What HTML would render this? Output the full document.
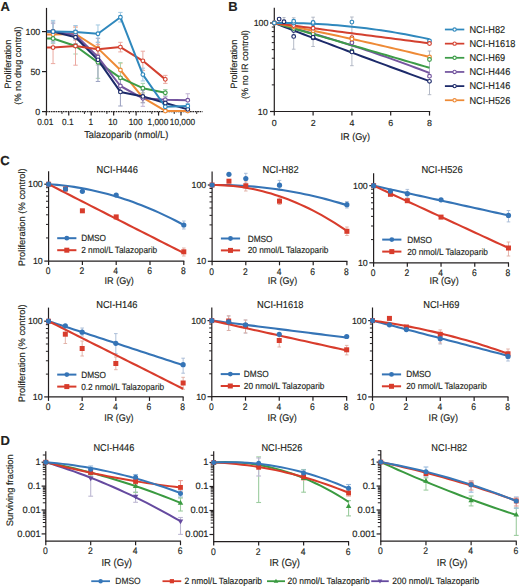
<!DOCTYPE html>
<html><head><meta charset="utf-8"><style>
html,body{margin:0;padding:0;background:#fff;}
svg{display:block;}
text{font-family:"Liberation Sans", sans-serif;text-rendering:geometricPrecision;stroke:#231f20;stroke-width:0.15px;}
</style></head><body>
<svg width="520" height="587" viewBox="0 0 520 587">
<rect width="520" height="587" fill="#fff"/>
<text transform="translate(0.6 11.3) scale(1.0000 1)" font-size="13.00" text-anchor="start" fill="#231f20" font-weight="bold" >A</text>
<text transform="translate(228.3 11.4) scale(1.0000 1)" font-size="13.00" text-anchor="start" fill="#231f20" font-weight="bold" >B</text>
<text transform="translate(0.2 165.2) scale(1.0000 1)" font-size="13.00" text-anchor="start" fill="#231f20" font-weight="bold" >C</text>
<text transform="translate(0.4 445.2) scale(1.0000 1)" font-size="13.00" text-anchor="start" fill="#231f20" font-weight="bold" >D</text>
<line x1="46.5" y1="7.9" x2="46.5" y2="112.2" stroke="#231f20" stroke-width="1.2" />
<line x1="46" y1="111.6" x2="202.5" y2="111.6" stroke="#231f20" stroke-width="1.3" stroke-dasharray="1.7 0.7"/>
<line x1="42" y1="31.6" x2="46.5" y2="31.6" stroke="#231f20" stroke-width="1.2" />
<text transform="translate(40.3 34.6) scale(1.0000 1)" font-size="8.90" text-anchor="end" fill="#231f20" font-weight="normal" >100</text>
<line x1="42" y1="71.6" x2="46.5" y2="71.6" stroke="#231f20" stroke-width="1.2" />
<text transform="translate(40.3 74.6) scale(1.0000 1)" font-size="8.90" text-anchor="end" fill="#231f20" font-weight="normal" >50</text>
<line x1="42" y1="111.6" x2="46.5" y2="111.6" stroke="#231f20" stroke-width="1.2" />
<text transform="translate(40.3 114.6) scale(1.0000 1)" font-size="8.90" text-anchor="end" fill="#231f20" font-weight="normal" >0</text>
<line x1="46.3" y1="111.6" x2="46.3" y2="115.6" stroke="#231f20" stroke-width="1.2" />
<line x1="68.75" y1="111.6" x2="68.75" y2="115.6" stroke="#231f20" stroke-width="1.2" />
<line x1="91.2" y1="111.6" x2="91.2" y2="115.6" stroke="#231f20" stroke-width="1.2" />
<line x1="113.65" y1="111.6" x2="113.65" y2="115.6" stroke="#231f20" stroke-width="1.2" />
<line x1="136.1" y1="111.6" x2="136.1" y2="115.6" stroke="#231f20" stroke-width="1.2" />
<line x1="158.55" y1="111.6" x2="158.55" y2="115.6" stroke="#231f20" stroke-width="1.2" />
<line x1="181" y1="111.6" x2="181" y2="115.6" stroke="#231f20" stroke-width="1.2" />
<text transform="translate(45.2 124.8) scale(0.9259 1)" font-size="8.96" text-anchor="middle" fill="#231f20" font-weight="normal" >0.01</text>
<text transform="translate(67.8 124.8) scale(0.9259 1)" font-size="8.96" text-anchor="middle" fill="#231f20" font-weight="normal" >0.1</text>
<text transform="translate(90.8 124.8) scale(0.9259 1)" font-size="8.96" text-anchor="middle" fill="#231f20" font-weight="normal" >1</text>
<text transform="translate(112.8 124.8) scale(0.9259 1)" font-size="8.96" text-anchor="middle" fill="#231f20" font-weight="normal" >10</text>
<text transform="translate(135.6 124.8) scale(0.9259 1)" font-size="8.96" text-anchor="middle" fill="#231f20" font-weight="normal" >100</text>
<text transform="translate(157.9 124.8) scale(0.9259 1)" font-size="8.96" text-anchor="middle" fill="#231f20" font-weight="normal" >1,000</text>
<text transform="translate(182.5 124.8) scale(0.9259 1)" font-size="8.96" text-anchor="middle" fill="#231f20" font-weight="normal" >10,000</text>
<line x1="61.99" y1="111.6" x2="61.99" y2="114" stroke="#231f20" stroke-width="0.9" />
<line x1="84.44" y1="111.6" x2="84.44" y2="114" stroke="#231f20" stroke-width="0.9" />
<line x1="106.89" y1="111.6" x2="106.89" y2="114" stroke="#231f20" stroke-width="0.9" />
<line x1="129.34" y1="111.6" x2="129.34" y2="114" stroke="#231f20" stroke-width="0.9" />
<line x1="151.79" y1="111.6" x2="151.79" y2="114" stroke="#231f20" stroke-width="0.9" />
<line x1="174.24" y1="111.6" x2="174.24" y2="114" stroke="#231f20" stroke-width="0.9" />
<line x1="196.69" y1="111.6" x2="196.69" y2="114" stroke="#231f20" stroke-width="0.9" />
<text transform="translate(126.2 137.6) scale(0.9259 1)" font-size="10.04" text-anchor="middle" fill="#231f20" font-weight="normal" >Talazoparib (nmol/L)</text>
<text transform="translate(10.8 64.2) rotate(-90) scale(1.0000 1)" font-size="9.20" text-anchor="middle" fill="#231f20" font-weight="normal" >Proliferation</text>
<text transform="translate(20.9 65.6) rotate(-90) scale(1.0000 1)" font-size="9.20" text-anchor="middle" fill="#231f20" font-weight="normal" >(% no drug control)</text>
<line x1="53.06" y1="29.6" x2="53.06" y2="39.2" stroke="#f7caa4" stroke-width="1.0" />
<line x1="50.86" y1="29.6" x2="55.26" y2="29.6" stroke="#f7caa4" stroke-width="1.0" />
<line x1="50.86" y1="39.2" x2="55.26" y2="39.2" stroke="#f7caa4" stroke-width="1.0" />
<line x1="75.51" y1="27.6" x2="75.51" y2="40.4" stroke="#f7caa4" stroke-width="1.0" />
<line x1="73.31" y1="27.6" x2="77.71" y2="27.6" stroke="#f7caa4" stroke-width="1.0" />
<line x1="73.31" y1="40.4" x2="77.71" y2="40.4" stroke="#f7caa4" stroke-width="1.0" />
<line x1="97.96" y1="42" x2="97.96" y2="54.8" stroke="#f7caa4" stroke-width="1.0" />
<line x1="95.76" y1="42" x2="100.16" y2="42" stroke="#f7caa4" stroke-width="1.0" />
<line x1="95.76" y1="54.8" x2="100.16" y2="54.8" stroke="#f7caa4" stroke-width="1.0" />
<line x1="120.41" y1="63.6" x2="120.41" y2="76.4" stroke="#f7caa4" stroke-width="1.0" />
<line x1="118.21" y1="63.6" x2="122.61" y2="63.6" stroke="#f7caa4" stroke-width="1.0" />
<line x1="118.21" y1="76.4" x2="122.61" y2="76.4" stroke="#f7caa4" stroke-width="1.0" />
<line x1="142.86" y1="92.8" x2="142.86" y2="102.4" stroke="#f7caa4" stroke-width="1.0" />
<line x1="140.66" y1="92.8" x2="145.06" y2="92.8" stroke="#f7caa4" stroke-width="1.0" />
<line x1="140.66" y1="102.4" x2="145.06" y2="102.4" stroke="#f7caa4" stroke-width="1.0" />
<line x1="165.31" y1="109.36" x2="165.31" y2="111.6" stroke="#f7caa4" stroke-width="1.0" />
<line x1="163.11" y1="109.36" x2="167.51" y2="109.36" stroke="#f7caa4" stroke-width="1.0" />
<line x1="163.11" y1="111.6" x2="167.51" y2="111.6" stroke="#f7caa4" stroke-width="1.0" />
<line x1="187.76" y1="109.36" x2="187.76" y2="111.6" stroke="#f7caa4" stroke-width="1.0" />
<line x1="185.56" y1="109.36" x2="189.96" y2="109.36" stroke="#f7caa4" stroke-width="1.0" />
<line x1="185.56" y1="111.6" x2="189.96" y2="111.6" stroke="#f7caa4" stroke-width="1.0" />
<line x1="53.06" y1="33.68" x2="53.06" y2="43.28" stroke="#a7d2ac" stroke-width="1.0" />
<line x1="50.86" y1="33.68" x2="55.26" y2="33.68" stroke="#a7d2ac" stroke-width="1.0" />
<line x1="50.86" y1="43.28" x2="55.26" y2="43.28" stroke="#a7d2ac" stroke-width="1.0" />
<line x1="75.51" y1="38" x2="75.51" y2="54" stroke="#a7d2ac" stroke-width="1.0" />
<line x1="73.31" y1="38" x2="77.71" y2="38" stroke="#a7d2ac" stroke-width="1.0" />
<line x1="73.31" y1="54" x2="77.71" y2="54" stroke="#a7d2ac" stroke-width="1.0" />
<line x1="97.96" y1="46.32" x2="97.96" y2="78.32" stroke="#a7d2ac" stroke-width="1.0" />
<line x1="95.76" y1="46.32" x2="100.16" y2="46.32" stroke="#a7d2ac" stroke-width="1.0" />
<line x1="95.76" y1="78.32" x2="100.16" y2="78.32" stroke="#a7d2ac" stroke-width="1.0" />
<line x1="120.41" y1="62.64" x2="120.41" y2="93.04" stroke="#a7d2ac" stroke-width="1.0" />
<line x1="118.21" y1="62.64" x2="122.61" y2="62.64" stroke="#a7d2ac" stroke-width="1.0" />
<line x1="118.21" y1="93.04" x2="122.61" y2="93.04" stroke="#a7d2ac" stroke-width="1.0" />
<line x1="142.86" y1="83.36" x2="142.86" y2="92.96" stroke="#a7d2ac" stroke-width="1.0" />
<line x1="140.66" y1="83.36" x2="145.06" y2="83.36" stroke="#a7d2ac" stroke-width="1.0" />
<line x1="140.66" y1="92.96" x2="145.06" y2="92.96" stroke="#a7d2ac" stroke-width="1.0" />
<line x1="165.31" y1="89.52" x2="165.31" y2="95.92" stroke="#a7d2ac" stroke-width="1.0" />
<line x1="163.11" y1="89.52" x2="167.51" y2="89.52" stroke="#a7d2ac" stroke-width="1.0" />
<line x1="163.11" y1="95.92" x2="167.51" y2="95.92" stroke="#a7d2ac" stroke-width="1.0" />
<line x1="53.06" y1="23.6" x2="53.06" y2="39.6" stroke="#c0b2d3" stroke-width="1.0" />
<line x1="50.86" y1="23.6" x2="55.26" y2="23.6" stroke="#c0b2d3" stroke-width="1.0" />
<line x1="50.86" y1="39.6" x2="55.26" y2="39.6" stroke="#c0b2d3" stroke-width="1.0" />
<line x1="75.51" y1="30.24" x2="75.51" y2="39.84" stroke="#c0b2d3" stroke-width="1.0" />
<line x1="73.31" y1="30.24" x2="77.71" y2="30.24" stroke="#c0b2d3" stroke-width="1.0" />
<line x1="73.31" y1="39.84" x2="77.71" y2="39.84" stroke="#c0b2d3" stroke-width="1.0" />
<line x1="97.96" y1="49.04" x2="97.96" y2="65.04" stroke="#c0b2d3" stroke-width="1.0" />
<line x1="95.76" y1="49.04" x2="100.16" y2="49.04" stroke="#c0b2d3" stroke-width="1.0" />
<line x1="95.76" y1="65.04" x2="100.16" y2="65.04" stroke="#c0b2d3" stroke-width="1.0" />
<line x1="120.41" y1="79.6" x2="120.41" y2="92.4" stroke="#c0b2d3" stroke-width="1.0" />
<line x1="118.21" y1="79.6" x2="122.61" y2="79.6" stroke="#c0b2d3" stroke-width="1.0" />
<line x1="118.21" y1="92.4" x2="122.61" y2="92.4" stroke="#c0b2d3" stroke-width="1.0" />
<line x1="142.86" y1="90.32" x2="142.86" y2="106.32" stroke="#c0b2d3" stroke-width="1.0" />
<line x1="140.66" y1="90.32" x2="145.06" y2="90.32" stroke="#c0b2d3" stroke-width="1.0" />
<line x1="140.66" y1="106.32" x2="145.06" y2="106.32" stroke="#c0b2d3" stroke-width="1.0" />
<line x1="165.31" y1="96.56" x2="165.31" y2="102.96" stroke="#c0b2d3" stroke-width="1.0" />
<line x1="163.11" y1="96.56" x2="167.51" y2="96.56" stroke="#c0b2d3" stroke-width="1.0" />
<line x1="163.11" y1="102.96" x2="167.51" y2="102.96" stroke="#c0b2d3" stroke-width="1.0" />
<line x1="187.76" y1="93.76" x2="187.76" y2="106.56" stroke="#c0b2d3" stroke-width="1.0" />
<line x1="185.56" y1="93.76" x2="189.96" y2="93.76" stroke="#c0b2d3" stroke-width="1.0" />
<line x1="185.56" y1="106.56" x2="189.96" y2="106.56" stroke="#c0b2d3" stroke-width="1.0" />
<line x1="53.06" y1="22" x2="53.06" y2="41.2" stroke="#9aa0c0" stroke-width="1.0" />
<line x1="50.86" y1="22" x2="55.26" y2="22" stroke="#9aa0c0" stroke-width="1.0" />
<line x1="50.86" y1="41.2" x2="55.26" y2="41.2" stroke="#9aa0c0" stroke-width="1.0" />
<line x1="75.51" y1="30.88" x2="75.51" y2="43.68" stroke="#9aa0c0" stroke-width="1.0" />
<line x1="73.31" y1="30.88" x2="77.71" y2="30.88" stroke="#9aa0c0" stroke-width="1.0" />
<line x1="73.31" y1="43.68" x2="77.71" y2="43.68" stroke="#9aa0c0" stroke-width="1.0" />
<line x1="97.96" y1="38.24" x2="97.96" y2="81.44" stroke="#9aa0c0" stroke-width="1.0" />
<line x1="95.76" y1="38.24" x2="100.16" y2="38.24" stroke="#9aa0c0" stroke-width="1.0" />
<line x1="95.76" y1="81.44" x2="100.16" y2="81.44" stroke="#9aa0c0" stroke-width="1.0" />
<line x1="120.41" y1="77.84" x2="120.41" y2="106" stroke="#9aa0c0" stroke-width="1.0" />
<line x1="118.21" y1="77.84" x2="122.61" y2="77.84" stroke="#9aa0c0" stroke-width="1.0" />
<line x1="118.21" y1="106" x2="122.61" y2="106" stroke="#9aa0c0" stroke-width="1.0" />
<line x1="142.86" y1="90" x2="142.86" y2="102.8" stroke="#9aa0c0" stroke-width="1.0" />
<line x1="140.66" y1="90" x2="145.06" y2="90" stroke="#9aa0c0" stroke-width="1.0" />
<line x1="140.66" y1="102.8" x2="145.06" y2="102.8" stroke="#9aa0c0" stroke-width="1.0" />
<line x1="165.31" y1="99.84" x2="165.31" y2="106.24" stroke="#9aa0c0" stroke-width="1.0" />
<line x1="163.11" y1="99.84" x2="167.51" y2="99.84" stroke="#9aa0c0" stroke-width="1.0" />
<line x1="163.11" y1="106.24" x2="167.51" y2="106.24" stroke="#9aa0c0" stroke-width="1.0" />
<line x1="187.76" y1="107.76" x2="187.76" y2="110.96" stroke="#9aa0c0" stroke-width="1.0" />
<line x1="185.56" y1="107.76" x2="189.96" y2="107.76" stroke="#9aa0c0" stroke-width="1.0" />
<line x1="185.56" y1="110.96" x2="189.96" y2="110.96" stroke="#9aa0c0" stroke-width="1.0" />
<line x1="53.06" y1="31.6" x2="53.06" y2="63.6" stroke="#eba9a1" stroke-width="1.0" />
<line x1="50.86" y1="31.6" x2="55.26" y2="31.6" stroke="#eba9a1" stroke-width="1.0" />
<line x1="50.86" y1="63.6" x2="55.26" y2="63.6" stroke="#eba9a1" stroke-width="1.0" />
<line x1="75.51" y1="26.8" x2="75.51" y2="65.2" stroke="#eba9a1" stroke-width="1.0" />
<line x1="73.31" y1="26.8" x2="77.71" y2="26.8" stroke="#eba9a1" stroke-width="1.0" />
<line x1="73.31" y1="65.2" x2="77.71" y2="65.2" stroke="#eba9a1" stroke-width="1.0" />
<line x1="97.96" y1="44.4" x2="97.96" y2="54" stroke="#eba9a1" stroke-width="1.0" />
<line x1="95.76" y1="44.4" x2="100.16" y2="44.4" stroke="#eba9a1" stroke-width="1.0" />
<line x1="95.76" y1="54" x2="100.16" y2="54" stroke="#eba9a1" stroke-width="1.0" />
<line x1="120.41" y1="42.32" x2="120.41" y2="51.92" stroke="#eba9a1" stroke-width="1.0" />
<line x1="118.21" y1="42.32" x2="122.61" y2="42.32" stroke="#eba9a1" stroke-width="1.0" />
<line x1="118.21" y1="51.92" x2="122.61" y2="51.92" stroke="#eba9a1" stroke-width="1.0" />
<line x1="142.86" y1="51.2" x2="142.86" y2="70.4" stroke="#eba9a1" stroke-width="1.0" />
<line x1="140.66" y1="51.2" x2="145.06" y2="51.2" stroke="#eba9a1" stroke-width="1.0" />
<line x1="140.66" y1="70.4" x2="145.06" y2="70.4" stroke="#eba9a1" stroke-width="1.0" />
<line x1="165.31" y1="75.36" x2="165.31" y2="83.36" stroke="#eba9a1" stroke-width="1.0" />
<line x1="163.11" y1="75.36" x2="167.51" y2="75.36" stroke="#eba9a1" stroke-width="1.0" />
<line x1="163.11" y1="83.36" x2="167.51" y2="83.36" stroke="#eba9a1" stroke-width="1.0" />
<line x1="53.06" y1="20.4" x2="53.06" y2="42.8" stroke="#a1c9e1" stroke-width="1.0" />
<line x1="50.86" y1="20.4" x2="55.26" y2="20.4" stroke="#a1c9e1" stroke-width="1.0" />
<line x1="50.86" y1="42.8" x2="55.26" y2="42.8" stroke="#a1c9e1" stroke-width="1.0" />
<line x1="75.51" y1="25.52" x2="75.51" y2="38.32" stroke="#a1c9e1" stroke-width="1.0" />
<line x1="73.31" y1="25.52" x2="77.71" y2="25.52" stroke="#a1c9e1" stroke-width="1.0" />
<line x1="73.31" y1="38.32" x2="77.71" y2="38.32" stroke="#a1c9e1" stroke-width="1.0" />
<line x1="97.96" y1="24.96" x2="97.96" y2="42.56" stroke="#a1c9e1" stroke-width="1.0" />
<line x1="95.76" y1="24.96" x2="100.16" y2="24.96" stroke="#a1c9e1" stroke-width="1.0" />
<line x1="95.76" y1="42.56" x2="100.16" y2="42.56" stroke="#a1c9e1" stroke-width="1.0" />
<line x1="120.41" y1="12.4" x2="120.41" y2="22" stroke="#a1c9e1" stroke-width="1.0" />
<line x1="118.21" y1="12.4" x2="122.61" y2="12.4" stroke="#a1c9e1" stroke-width="1.0" />
<line x1="118.21" y1="22" x2="122.61" y2="22" stroke="#a1c9e1" stroke-width="1.0" />
<line x1="142.86" y1="68.16" x2="142.86" y2="80.96" stroke="#a1c9e1" stroke-width="1.0" />
<line x1="140.66" y1="68.16" x2="145.06" y2="68.16" stroke="#a1c9e1" stroke-width="1.0" />
<line x1="140.66" y1="80.96" x2="145.06" y2="80.96" stroke="#a1c9e1" stroke-width="1.0" />
<line x1="165.31" y1="104.4" x2="165.31" y2="109.2" stroke="#a1c9e1" stroke-width="1.0" />
<line x1="163.11" y1="104.4" x2="167.51" y2="104.4" stroke="#a1c9e1" stroke-width="1.0" />
<line x1="163.11" y1="109.2" x2="167.51" y2="109.2" stroke="#a1c9e1" stroke-width="1.0" />
<line x1="187.76" y1="103.6" x2="187.76" y2="108.4" stroke="#a1c9e1" stroke-width="1.0" />
<line x1="185.56" y1="103.6" x2="189.96" y2="103.6" stroke="#a1c9e1" stroke-width="1.0" />
<line x1="185.56" y1="108.4" x2="189.96" y2="108.4" stroke="#a1c9e1" stroke-width="1.0" />
<polyline points="47,34.4 53.06,34.4 75.51,34 97.96,48.4 120.41,70 142.86,97.6 165.31,110.96 187.76,110.96" fill="none" stroke="#ee8a36" stroke-width="2.0" stroke-linejoin="round" stroke-linecap="butt" />
<polyline points="47,38.48 53.06,38.48 75.51,46 97.96,62.32 120.41,77.84 142.86,88.16 165.31,92.72" fill="none" stroke="#3d9c48" stroke-width="2.0" stroke-linejoin="round" stroke-linecap="butt" />
<polyline points="47,31.6 53.06,31.6 75.51,35.04 97.96,57.04 120.41,86 142.86,98.32 165.31,99.76 187.76,100.16" fill="none" stroke="#74559f" stroke-width="2.0" stroke-linejoin="round" stroke-linecap="butt" />
<polyline points="47,31.6 53.06,31.6 75.51,37.28 97.96,59.84 120.41,91.92 142.86,96.4 165.31,103.04 187.76,109.36" fill="none" stroke="#1c2a6a" stroke-width="2.0" stroke-linejoin="round" stroke-linecap="butt" />
<polyline points="47,47.6 53.06,47.6 75.51,46 97.96,49.2 120.41,47.12 142.86,60.8 165.31,79.36" fill="none" stroke="#d3402f" stroke-width="2.0" stroke-linejoin="round" stroke-linecap="butt" />
<polyline points="47,31.6 53.06,31.6 75.51,31.92 97.96,33.76 120.41,17.2 142.86,74.56 165.31,106.8 187.76,106" fill="none" stroke="#2f88bd" stroke-width="2.0" stroke-linejoin="round" stroke-linecap="butt" />
<circle cx="53.06" cy="34.4" r="1.85" fill="#fff" stroke="#ee8a36" stroke-width="1.15"/>
<circle cx="75.51" cy="34" r="1.85" fill="#fff" stroke="#ee8a36" stroke-width="1.15"/>
<circle cx="97.96" cy="48.4" r="1.85" fill="#fff" stroke="#ee8a36" stroke-width="1.15"/>
<circle cx="120.41" cy="70" r="1.85" fill="#fff" stroke="#ee8a36" stroke-width="1.15"/>
<circle cx="142.86" cy="97.6" r="1.85" fill="#fff" stroke="#ee8a36" stroke-width="1.15"/>
<circle cx="165.31" cy="110.96" r="1.85" fill="#fff" stroke="#ee8a36" stroke-width="1.15"/>
<circle cx="187.76" cy="110.96" r="1.85" fill="#fff" stroke="#ee8a36" stroke-width="1.15"/>
<circle cx="53.06" cy="38.48" r="1.85" fill="#fff" stroke="#3d9c48" stroke-width="1.15"/>
<circle cx="75.51" cy="46" r="1.85" fill="#fff" stroke="#3d9c48" stroke-width="1.15"/>
<circle cx="97.96" cy="62.32" r="1.85" fill="#fff" stroke="#3d9c48" stroke-width="1.15"/>
<circle cx="120.41" cy="77.84" r="1.85" fill="#fff" stroke="#3d9c48" stroke-width="1.15"/>
<circle cx="142.86" cy="88.16" r="1.85" fill="#fff" stroke="#3d9c48" stroke-width="1.15"/>
<circle cx="165.31" cy="92.72" r="1.85" fill="#fff" stroke="#3d9c48" stroke-width="1.15"/>
<circle cx="53.06" cy="31.6" r="1.85" fill="#fff" stroke="#74559f" stroke-width="1.15"/>
<circle cx="75.51" cy="35.04" r="1.85" fill="#fff" stroke="#74559f" stroke-width="1.15"/>
<circle cx="97.96" cy="57.04" r="1.85" fill="#fff" stroke="#74559f" stroke-width="1.15"/>
<circle cx="120.41" cy="86" r="1.85" fill="#fff" stroke="#74559f" stroke-width="1.15"/>
<circle cx="142.86" cy="98.32" r="1.85" fill="#fff" stroke="#74559f" stroke-width="1.15"/>
<circle cx="165.31" cy="99.76" r="1.85" fill="#fff" stroke="#74559f" stroke-width="1.15"/>
<circle cx="187.76" cy="100.16" r="1.85" fill="#fff" stroke="#74559f" stroke-width="1.15"/>
<circle cx="53.06" cy="31.6" r="1.85" fill="#fff" stroke="#1c2a6a" stroke-width="1.15"/>
<circle cx="75.51" cy="37.28" r="1.85" fill="#fff" stroke="#1c2a6a" stroke-width="1.15"/>
<circle cx="97.96" cy="59.84" r="1.85" fill="#fff" stroke="#1c2a6a" stroke-width="1.15"/>
<circle cx="120.41" cy="91.92" r="1.85" fill="#fff" stroke="#1c2a6a" stroke-width="1.15"/>
<circle cx="142.86" cy="96.4" r="1.85" fill="#fff" stroke="#1c2a6a" stroke-width="1.15"/>
<circle cx="165.31" cy="103.04" r="1.85" fill="#fff" stroke="#1c2a6a" stroke-width="1.15"/>
<circle cx="187.76" cy="109.36" r="1.85" fill="#fff" stroke="#1c2a6a" stroke-width="1.15"/>
<circle cx="53.06" cy="47.6" r="1.85" fill="#fff" stroke="#d3402f" stroke-width="1.15"/>
<circle cx="75.51" cy="46" r="1.85" fill="#fff" stroke="#d3402f" stroke-width="1.15"/>
<circle cx="97.96" cy="49.2" r="1.85" fill="#fff" stroke="#d3402f" stroke-width="1.15"/>
<circle cx="120.41" cy="47.12" r="1.85" fill="#fff" stroke="#d3402f" stroke-width="1.15"/>
<circle cx="142.86" cy="60.8" r="1.85" fill="#fff" stroke="#d3402f" stroke-width="1.15"/>
<circle cx="165.31" cy="79.36" r="1.85" fill="#fff" stroke="#d3402f" stroke-width="1.15"/>
<circle cx="53.06" cy="31.6" r="1.85" fill="#fff" stroke="#2f88bd" stroke-width="1.15"/>
<circle cx="75.51" cy="31.92" r="1.85" fill="#fff" stroke="#2f88bd" stroke-width="1.15"/>
<circle cx="97.96" cy="33.76" r="1.85" fill="#fff" stroke="#2f88bd" stroke-width="1.15"/>
<circle cx="120.41" cy="17.2" r="1.85" fill="#fff" stroke="#2f88bd" stroke-width="1.15"/>
<circle cx="142.86" cy="74.56" r="1.85" fill="#fff" stroke="#2f88bd" stroke-width="1.15"/>
<circle cx="165.31" cy="106.8" r="1.85" fill="#fff" stroke="#2f88bd" stroke-width="1.15"/>
<circle cx="187.76" cy="106" r="1.85" fill="#fff" stroke="#2f88bd" stroke-width="1.15"/>
<line x1="274.3" y1="7.7" x2="274.3" y2="112.1" stroke="#231f20" stroke-width="1.2" />
<line x1="273.8" y1="111.5" x2="430.3" y2="111.5" stroke="#231f20" stroke-width="1.2" />
<line x1="270" y1="23" x2="274.3" y2="23" stroke="#231f20" stroke-width="1.2" />
<text transform="translate(268.5 26.1) scale(1.0000 1)" font-size="8.90" text-anchor="end" fill="#231f20" font-weight="normal" >100</text>
<line x1="270" y1="111.5" x2="274.3" y2="111.5" stroke="#231f20" stroke-width="1.2" />
<text transform="translate(267.7 114.6) scale(1.0000 1)" font-size="8.90" text-anchor="end" fill="#231f20" font-weight="normal" >10</text>
<line x1="271.8" y1="84.86" x2="274.3" y2="84.86" stroke="#231f20" stroke-width="1.0" />
<line x1="271.8" y1="69.27" x2="274.3" y2="69.27" stroke="#231f20" stroke-width="1.0" />
<line x1="271.8" y1="58.22" x2="274.3" y2="58.22" stroke="#231f20" stroke-width="1.0" />
<line x1="271.8" y1="49.64" x2="274.3" y2="49.64" stroke="#231f20" stroke-width="1.0" />
<line x1="271.8" y1="42.63" x2="274.3" y2="42.63" stroke="#231f20" stroke-width="1.0" />
<line x1="271.8" y1="36.71" x2="274.3" y2="36.71" stroke="#231f20" stroke-width="1.0" />
<line x1="271.8" y1="31.58" x2="274.3" y2="31.58" stroke="#231f20" stroke-width="1.0" />
<line x1="271.8" y1="27.05" x2="274.3" y2="27.05" stroke="#231f20" stroke-width="1.0" />
<line x1="274.3" y1="111.5" x2="274.3" y2="115.6" stroke="#231f20" stroke-width="1.2" />
<text transform="translate(274.3 125.6) scale(1.0000 1)" font-size="8.90" text-anchor="middle" fill="#231f20" font-weight="normal" >0</text>
<line x1="313.1" y1="111.5" x2="313.1" y2="115.6" stroke="#231f20" stroke-width="1.2" />
<text transform="translate(313.1 125.6) scale(1.0000 1)" font-size="8.90" text-anchor="middle" fill="#231f20" font-weight="normal" >2</text>
<line x1="351.9" y1="111.5" x2="351.9" y2="115.6" stroke="#231f20" stroke-width="1.2" />
<text transform="translate(351.9 125.6) scale(1.0000 1)" font-size="8.90" text-anchor="middle" fill="#231f20" font-weight="normal" >4</text>
<line x1="390.7" y1="111.5" x2="390.7" y2="115.6" stroke="#231f20" stroke-width="1.2" />
<text transform="translate(390.7 125.6) scale(1.0000 1)" font-size="8.90" text-anchor="middle" fill="#231f20" font-weight="normal" >6</text>
<line x1="429.5" y1="111.5" x2="429.5" y2="115.6" stroke="#231f20" stroke-width="1.2" />
<text transform="translate(429.5 125.6) scale(1.0000 1)" font-size="8.90" text-anchor="middle" fill="#231f20" font-weight="normal" >8</text>
<text transform="translate(355.2 140.2) scale(0.9259 1)" font-size="9.94" text-anchor="middle" fill="#231f20" font-weight="normal" >IR (Gy)</text>
<text transform="translate(237.4 64.2) rotate(-90) scale(1.0000 1)" font-size="9.20" text-anchor="middle" fill="#231f20" font-weight="normal" >Proliferation</text>
<text transform="translate(247.7 64.6) rotate(-90) scale(1.0000 1)" font-size="9.20" text-anchor="middle" fill="#231f20" font-weight="normal" >(% no IR control)</text>
<line x1="293.7" y1="17.8" x2="293.7" y2="49.2" stroke="#abb2c1" stroke-width="0.9" />
<line x1="291.9" y1="17.8" x2="295.5" y2="17.8" stroke="#abb2c1" stroke-width="0.9" />
<line x1="291.9" y1="49.2" x2="295.5" y2="49.2" stroke="#abb2c1" stroke-width="0.9" />
<line x1="313.1" y1="17.2" x2="313.1" y2="46.5" stroke="#abb2c1" stroke-width="0.9" />
<line x1="311.3" y1="17.2" x2="314.9" y2="17.2" stroke="#abb2c1" stroke-width="0.9" />
<line x1="311.3" y1="46.5" x2="314.9" y2="46.5" stroke="#abb2c1" stroke-width="0.9" />
<line x1="351.9" y1="17" x2="351.9" y2="65.7" stroke="#abb2c1" stroke-width="0.9" />
<line x1="350.1" y1="17" x2="353.7" y2="17" stroke="#abb2c1" stroke-width="0.9" />
<line x1="350.1" y1="65.7" x2="353.7" y2="65.7" stroke="#abb2c1" stroke-width="0.9" />
<line x1="429.5" y1="51" x2="429.5" y2="94.7" stroke="#abb2c1" stroke-width="0.9" />
<line x1="427.7" y1="51" x2="431.3" y2="51" stroke="#abb2c1" stroke-width="0.9" />
<line x1="427.7" y1="94.7" x2="431.3" y2="94.7" stroke="#abb2c1" stroke-width="0.9" />
<line x1="279.15" y1="17.5" x2="279.15" y2="21" stroke="#abb2c1" stroke-width="0.9" />
<line x1="277.65" y1="17.5" x2="280.65" y2="17.5" stroke="#abb2c1" stroke-width="0.9" />
<line x1="277.65" y1="21" x2="280.65" y2="21" stroke="#abb2c1" stroke-width="0.9" />
<line x1="284" y1="17.5" x2="284" y2="24" stroke="#abb2c1" stroke-width="0.9" />
<line x1="282.5" y1="17.5" x2="285.5" y2="17.5" stroke="#abb2c1" stroke-width="0.9" />
<line x1="282.5" y1="24" x2="285.5" y2="24" stroke="#abb2c1" stroke-width="0.9" />
<polyline points="274.3,23 279.15,24.88 284,26.75 288.85,28.62 293.7,30.49 298.55,32.35 303.4,34.2 308.25,36.06 313.1,37.91 317.95,39.75 322.8,41.6 327.65,43.43 332.5,45.27 337.35,47.1 342.2,48.92 347.05,50.75 351.9,52.57 356.75,54.38 361.6,56.19 366.45,58 371.3,59.8 376.15,61.6 381,63.39 385.85,65.18 390.7,66.97 395.55,68.75 400.4,70.53 405.25,72.31 410.1,74.08 414.95,75.85 419.8,77.61 424.65,79.37 429.5,81.13" fill="none" stroke="#1c2a6a" stroke-width="2.0" stroke-linejoin="round" stroke-linecap="butt" />
<polyline points="274.3,23 279.15,24.26 284,25.54 288.85,26.84 293.7,28.16 298.55,29.49 303.4,30.85 308.25,32.23 313.1,33.62 317.95,35.04 322.8,36.48 327.65,37.93 332.5,39.4 337.35,40.9 342.2,42.41 347.05,43.94 351.9,45.5 356.75,47.07 361.6,48.66 366.45,50.27 371.3,51.9 376.15,53.55 381,55.22 385.85,56.91 390.7,58.62 395.55,60.34 400.4,62.09 405.25,63.86 410.1,65.64 414.95,67.45 419.8,69.28 424.65,71.12 429.5,72.98" fill="none" stroke="#74559f" stroke-width="2.0" stroke-linejoin="round" stroke-linecap="butt" />
<polyline points="274.3,23 279.15,24.38 284,25.77 288.85,27.15 293.7,28.53 298.55,29.92 303.4,31.31 308.25,32.7 313.1,34.09 317.95,35.48 322.8,36.87 327.65,38.26 332.5,39.66 337.35,41.05 342.2,42.45 347.05,43.85 351.9,45.25 356.75,46.65 361.6,48.05 366.45,49.45 371.3,50.85 376.15,52.26 381,53.66 385.85,55.07 390.7,56.48 395.55,57.89 400.4,59.3 405.25,60.71 410.1,62.12 414.95,63.53 419.8,64.95 424.65,66.36 429.5,67.78" fill="none" stroke="#3d9c48" stroke-width="2.0" stroke-linejoin="round" stroke-linecap="butt" />
<polyline points="274.3,23 279.15,23.94 284,24.89 288.85,25.84 293.7,26.81 298.55,27.78 303.4,28.76 308.25,29.75 313.1,30.74 317.95,31.74 322.8,32.76 327.65,33.77 332.5,34.8 337.35,35.83 342.2,36.88 347.05,37.92 351.9,38.98 356.75,40.05 361.6,41.12 366.45,42.2 371.3,43.29 376.15,44.39 381,45.49 385.85,46.6 390.7,47.72 395.55,48.85 400.4,49.99 405.25,51.13 410.1,52.28 414.95,53.44 419.8,54.6 424.65,55.78 429.5,56.96" fill="none" stroke="#ee8a36" stroke-width="2.0" stroke-linejoin="round" stroke-linecap="butt" />
<polyline points="274.3,23 279.15,23.65 284,24.31 288.85,24.96 293.7,25.61 298.55,26.26 303.4,26.9 308.25,27.55 313.1,28.2 317.95,28.84 322.8,29.48 327.65,30.13 332.5,30.77 337.35,31.4 342.2,32.04 347.05,32.68 351.9,33.32 356.75,33.95 361.6,34.58 366.45,35.21 371.3,35.85 376.15,36.47 381,37.1 385.85,37.73 390.7,38.36 395.55,38.98 400.4,39.6 405.25,40.22 410.1,40.85 414.95,41.47 419.8,42.08 424.65,42.7 429.5,43.32" fill="none" stroke="#d3402f" stroke-width="2.0" stroke-linejoin="round" stroke-linecap="butt" />
<polyline points="274.3,23 279.15,22.97 284,22.97 288.85,23.01 293.7,23.09 298.55,23.19 303.4,23.34 308.25,23.51 313.1,23.73 317.95,23.97 322.8,24.25 327.65,24.57 332.5,24.92 337.35,25.3 342.2,25.72 347.05,26.18 351.9,26.67 356.75,27.19 361.6,27.75 366.45,28.34 371.3,28.96 376.15,29.63 381,30.32 385.85,31.05 390.7,31.82 395.55,32.62 400.4,33.45 405.25,34.32 410.1,35.22 414.95,36.16 419.8,37.13 424.65,38.14 429.5,39.18" fill="none" stroke="#2f88bd" stroke-width="2.0" stroke-linejoin="round" stroke-linecap="butt" />
<circle cx="293.7" cy="30.49" r="1.85" fill="#fff" stroke="#1c2a6a" stroke-width="1.15"/>
<circle cx="313.1" cy="37.91" r="1.85" fill="#fff" stroke="#1c2a6a" stroke-width="1.15"/>
<circle cx="293.7" cy="28.16" r="1.85" fill="#fff" stroke="#74559f" stroke-width="1.15"/>
<circle cx="313.1" cy="33.62" r="1.85" fill="#fff" stroke="#74559f" stroke-width="1.15"/>
<circle cx="293.7" cy="28.53" r="1.85" fill="#fff" stroke="#3d9c48" stroke-width="1.15"/>
<circle cx="313.1" cy="34.09" r="1.85" fill="#fff" stroke="#3d9c48" stroke-width="1.15"/>
<circle cx="293.7" cy="26.81" r="1.85" fill="#fff" stroke="#ee8a36" stroke-width="1.15"/>
<circle cx="313.1" cy="30.74" r="1.85" fill="#fff" stroke="#ee8a36" stroke-width="1.15"/>
<circle cx="293.7" cy="25.61" r="1.85" fill="#fff" stroke="#d3402f" stroke-width="1.15"/>
<circle cx="313.1" cy="28.2" r="1.85" fill="#fff" stroke="#d3402f" stroke-width="1.15"/>
<circle cx="293.7" cy="23.09" r="1.85" fill="#fff" stroke="#2f88bd" stroke-width="1.15"/>
<circle cx="313.1" cy="23.73" r="1.85" fill="#fff" stroke="#2f88bd" stroke-width="1.15"/>
<circle cx="274.3" cy="23" r="1.85" fill="#fff" stroke="#1c2a6a" stroke-width="1.15"/>
<circle cx="274.3" cy="23" r="1.85" fill="#fff" stroke="#74559f" stroke-width="1.15"/>
<circle cx="274.3" cy="23" r="1.85" fill="#fff" stroke="#3d9c48" stroke-width="1.15"/>
<circle cx="274.3" cy="23" r="1.85" fill="#fff" stroke="#ee8a36" stroke-width="1.15"/>
<circle cx="274.3" cy="23" r="1.85" fill="#fff" stroke="#d3402f" stroke-width="1.15"/>
<circle cx="274.3" cy="23" r="1.85" fill="#fff" stroke="#2f88bd" stroke-width="1.15"/>
<circle cx="279.15" cy="19.1" r="1.85" fill="#fff" stroke="#1c2a6a" stroke-width="1.15"/>
<circle cx="284" cy="21.7" r="1.85" fill="#fff" stroke="#1c2a6a" stroke-width="1.15"/>
<circle cx="293.7" cy="36.4" r="1.85" fill="#fff" stroke="#1c2a6a" stroke-width="1.15"/>
<circle cx="313.1" cy="37.2" r="1.85" fill="#fff" stroke="#1c2a6a" stroke-width="1.15"/>
<circle cx="293.7" cy="21.3" r="1.85" fill="#fff" stroke="#2f88bd" stroke-width="1.15"/>
<circle cx="313.1" cy="22.5" r="1.85" fill="#fff" stroke="#2f88bd" stroke-width="1.15"/>
<circle cx="351.9" cy="22.1" r="1.85" fill="#fff" stroke="#2f88bd" stroke-width="1.15"/>
<circle cx="351.9" cy="37.6" r="1.85" fill="#fff" stroke="#d3402f" stroke-width="1.15"/>
<circle cx="351.9" cy="42.7" r="1.85" fill="#fff" stroke="#74559f" stroke-width="1.15"/>
<circle cx="351.9" cy="50.9" r="1.85" fill="#fff" stroke="#3d9c48" stroke-width="1.15"/>
<circle cx="351.9" cy="38.98" r="1.85" fill="#fff" stroke="#ee8a36" stroke-width="1.15"/>
<circle cx="351.9" cy="51.9" r="1.85" fill="#fff" stroke="#1c2a6a" stroke-width="1.15"/>
<circle cx="429.5" cy="41" r="1.85" fill="#fff" stroke="#2f88bd" stroke-width="1.15"/>
<circle cx="429.5" cy="43.5" r="1.85" fill="#fff" stroke="#d3402f" stroke-width="1.15"/>
<circle cx="429.5" cy="57" r="1.85" fill="#fff" stroke="#ee8a36" stroke-width="1.15"/>
<circle cx="429.5" cy="59.5" r="1.85" fill="#fff" stroke="#3d9c48" stroke-width="1.15"/>
<circle cx="429.5" cy="76.2" r="1.85" fill="#fff" stroke="#74559f" stroke-width="1.15"/>
<circle cx="429.5" cy="81.3" r="1.85" fill="#fff" stroke="#1c2a6a" stroke-width="1.15"/>
<line x1="444.9" y1="29.5" x2="464.3" y2="29.5" stroke="#2f88bd" stroke-width="1.75" />
<circle cx="454.6" cy="29.5" r="1.65" fill="#fff" stroke="#2f88bd" stroke-width="1.05"/>
<text transform="translate(469.4 32.8) scale(0.9259 1)" font-size="9.94" text-anchor="start" fill="#231f20" font-weight="normal" >NCI-H82</text>
<line x1="444.9" y1="43.65" x2="464.3" y2="43.65" stroke="#d3402f" stroke-width="1.75" />
<circle cx="454.6" cy="43.65" r="1.65" fill="#fff" stroke="#d3402f" stroke-width="1.05"/>
<text transform="translate(469.4 46.95) scale(0.9259 1)" font-size="9.94" text-anchor="start" fill="#231f20" font-weight="normal" >NCI-H1618</text>
<line x1="444.9" y1="57.8" x2="464.3" y2="57.8" stroke="#3d9c48" stroke-width="1.75" />
<circle cx="454.6" cy="57.8" r="1.65" fill="#fff" stroke="#3d9c48" stroke-width="1.05"/>
<text transform="translate(469.4 61.1) scale(0.9259 1)" font-size="9.94" text-anchor="start" fill="#231f20" font-weight="normal" >NCI-H69</text>
<line x1="444.9" y1="71.95" x2="464.3" y2="71.95" stroke="#74559f" stroke-width="1.75" />
<circle cx="454.6" cy="71.95" r="1.65" fill="#fff" stroke="#74559f" stroke-width="1.05"/>
<text transform="translate(469.4 75.25) scale(0.9259 1)" font-size="9.94" text-anchor="start" fill="#231f20" font-weight="normal" >NCI-H446</text>
<line x1="444.9" y1="86.1" x2="464.3" y2="86.1" stroke="#1c2a6a" stroke-width="1.75" />
<circle cx="454.6" cy="86.1" r="1.65" fill="#fff" stroke="#1c2a6a" stroke-width="1.05"/>
<text transform="translate(469.4 89.4) scale(0.9259 1)" font-size="9.94" text-anchor="start" fill="#231f20" font-weight="normal" >NCI-H146</text>
<line x1="444.9" y1="100.25" x2="464.3" y2="100.25" stroke="#ee8a36" stroke-width="1.75" />
<circle cx="454.6" cy="100.25" r="1.65" fill="#fff" stroke="#ee8a36" stroke-width="1.05"/>
<text transform="translate(469.4 103.55) scale(0.9259 1)" font-size="9.94" text-anchor="start" fill="#231f20" font-weight="normal" >NCI-H526</text>
<line x1="48.6" y1="171.25" x2="48.6" y2="261.7" stroke="#231f20" stroke-width="1.2" />
<line x1="48.1" y1="261.1" x2="184.3" y2="261.1" stroke="#231f20" stroke-width="1.2" />
<line x1="44.3" y1="184.2" x2="48.6" y2="184.2" stroke="#231f20" stroke-width="1.2" />
<text transform="translate(42.8 187.3) scale(1.0000 1)" font-size="8.90" text-anchor="end" fill="#231f20" font-weight="normal" >100</text>
<line x1="44.3" y1="261.1" x2="48.6" y2="261.1" stroke="#231f20" stroke-width="1.2" />
<text transform="translate(42.8 264.2) scale(1.0000 1)" font-size="8.90" text-anchor="end" fill="#231f20" font-weight="normal" >10</text>
<line x1="46" y1="237.95" x2="48.6" y2="237.95" stroke="#231f20" stroke-width="1.0" />
<line x1="46" y1="224.41" x2="48.6" y2="224.41" stroke="#231f20" stroke-width="1.0" />
<line x1="46" y1="214.8" x2="48.6" y2="214.8" stroke="#231f20" stroke-width="1.0" />
<line x1="46" y1="207.35" x2="48.6" y2="207.35" stroke="#231f20" stroke-width="1.0" />
<line x1="46" y1="201.26" x2="48.6" y2="201.26" stroke="#231f20" stroke-width="1.0" />
<line x1="46" y1="196.11" x2="48.6" y2="196.11" stroke="#231f20" stroke-width="1.0" />
<line x1="46" y1="191.65" x2="48.6" y2="191.65" stroke="#231f20" stroke-width="1.0" />
<line x1="46" y1="187.72" x2="48.6" y2="187.72" stroke="#231f20" stroke-width="1.0" />
<line x1="48.6" y1="261.1" x2="48.6" y2="265.1" stroke="#231f20" stroke-width="1.2" />
<text transform="translate(48.1 274.4) scale(0.8929 1)" font-size="9.52" text-anchor="middle" fill="#231f20" font-weight="normal" >0</text>
<line x1="82.4" y1="261.1" x2="82.4" y2="265.1" stroke="#231f20" stroke-width="1.2" />
<text transform="translate(81.9 274.4) scale(0.8929 1)" font-size="9.52" text-anchor="middle" fill="#231f20" font-weight="normal" >2</text>
<line x1="116.2" y1="261.1" x2="116.2" y2="265.1" stroke="#231f20" stroke-width="1.2" />
<text transform="translate(115.7 274.4) scale(0.8929 1)" font-size="9.52" text-anchor="middle" fill="#231f20" font-weight="normal" >4</text>
<line x1="150" y1="261.1" x2="150" y2="265.1" stroke="#231f20" stroke-width="1.2" />
<text transform="translate(149.5 274.4) scale(0.8929 1)" font-size="9.52" text-anchor="middle" fill="#231f20" font-weight="normal" >6</text>
<line x1="183.8" y1="261.1" x2="183.8" y2="265.1" stroke="#231f20" stroke-width="1.2" />
<text transform="translate(183.3 274.4) scale(0.8929 1)" font-size="9.52" text-anchor="middle" fill="#231f20" font-weight="normal" >8</text>
<text transform="translate(119.2 283.6) scale(0.9259 1)" font-size="9.83" text-anchor="middle" fill="#231f20" font-weight="normal" >IR (Gy)</text>
<text transform="translate(117.2 172.5) scale(0.9259 1)" font-size="10.04" text-anchor="middle" fill="#231f20" font-weight="normal" >NCI-H446</text>
<line x1="183.8" y1="221" x2="183.8" y2="229" stroke="#a5b9d5" stroke-width="0.9" />
<line x1="182" y1="221" x2="185.6" y2="221" stroke="#a5b9d5" stroke-width="0.9" />
<line x1="182" y1="229" x2="185.6" y2="229" stroke="#a5b9d5" stroke-width="0.9" />
<line x1="183.8" y1="248" x2="183.8" y2="256" stroke="#e0ada1" stroke-width="0.9" />
<line x1="182" y1="248" x2="185.6" y2="248" stroke="#e0ada1" stroke-width="0.9" />
<line x1="182" y1="256" x2="185.6" y2="256" stroke="#e0ada1" stroke-width="0.9" />
<polyline points="48.6,184.2 52.83,184.49 57.05,184.85 61.27,185.27 65.5,185.76 69.72,186.3 73.95,186.91 78.17,187.59 82.4,188.32 86.62,189.12 90.85,189.99 95.07,190.91 99.3,191.9 103.53,192.96 107.75,194.07 111.97,195.25 116.2,196.5 120.42,197.8 124.65,199.17 128.88,200.6 133.1,202.1 137.32,203.66 141.55,205.28 145.78,206.97 150,208.72 154.22,210.53 158.45,212.4 162.67,214.34 166.9,216.34 171.12,218.41 175.35,220.54 179.57,222.73 183.8,224.98" fill="none" stroke="#3574b6" stroke-width="2.1" stroke-linejoin="round" stroke-linecap="butt" />
<polyline points="48.6,184.2 52.83,186.37 57.05,188.54 61.27,190.7 65.5,192.87 69.72,195.03 73.95,197.2 78.17,199.36 82.4,201.52 86.62,203.68 90.85,205.84 95.07,207.99 99.3,210.15 103.53,212.3 107.75,214.46 111.97,216.61 116.2,218.76 120.42,220.91 124.65,223.06 128.88,225.2 133.1,227.35 137.32,229.49 141.55,231.64 145.78,233.78 150,235.92 154.22,238.06 158.45,240.2 162.67,242.33 166.9,244.47 171.12,246.6 175.35,248.74 179.57,250.87 183.8,253" fill="none" stroke="#d83c2c" stroke-width="2.1" stroke-linejoin="round" stroke-linecap="butt" />
<rect x="46.1" y="181.7" width="5.0" height="5.0" fill="#d83c2c"/>
<rect x="63" y="186.5" width="5.0" height="5.0" fill="#d83c2c"/>
<rect x="79.9" y="208.3" width="5.0" height="5.0" fill="#d83c2c"/>
<rect x="113.7" y="214.4" width="5.0" height="5.0" fill="#d83c2c"/>
<rect x="181.3" y="249.3" width="5.0" height="5.0" fill="#d83c2c"/>
<circle cx="48.6" cy="184.2" r="2.6" fill="#3574b6"/>
<circle cx="65.5" cy="189" r="2.6" fill="#3574b6"/>
<circle cx="82.4" cy="191.3" r="2.6" fill="#3574b6"/>
<circle cx="116.2" cy="195" r="2.6" fill="#3574b6"/>
<circle cx="183.8" cy="225" r="2.6" fill="#3574b6"/>
<line x1="57.2" y1="238.2" x2="76.4" y2="238.2" stroke="#3574b6" stroke-width="2.0" />
<circle cx="66.8" cy="238.2" r="2.4" fill="#3574b6"/>
<text transform="translate(81.2 241.2) scale(0.9259 1)" font-size="8.96" text-anchor="start" fill="#231f20" font-weight="normal" >DMSO</text>
<line x1="57.2" y1="250.2" x2="76.4" y2="250.2" stroke="#d83c2c" stroke-width="2.0" />
<rect x="64.3" y="247.7" width="5.0" height="5.0" fill="#d83c2c"/>
<text transform="translate(81.2 253.2) scale(0.9259 1)" font-size="8.96" text-anchor="start" fill="#231f20" font-weight="normal" >2 nmol/L Talazoparib</text>
<line x1="212.1" y1="171.5" x2="212.1" y2="261.9" stroke="#231f20" stroke-width="1.2" />
<line x1="211.6" y1="261.3" x2="347.4" y2="261.3" stroke="#231f20" stroke-width="1.2" />
<line x1="207.8" y1="185" x2="212.1" y2="185" stroke="#231f20" stroke-width="1.2" />
<text transform="translate(206.3 188.1) scale(1.0000 1)" font-size="8.90" text-anchor="end" fill="#231f20" font-weight="normal" >100</text>
<line x1="207.8" y1="261.3" x2="212.1" y2="261.3" stroke="#231f20" stroke-width="1.2" />
<text transform="translate(206.3 264.4) scale(1.0000 1)" font-size="8.90" text-anchor="end" fill="#231f20" font-weight="normal" >10</text>
<line x1="209.5" y1="238.33" x2="212.1" y2="238.33" stroke="#231f20" stroke-width="1.0" />
<line x1="209.5" y1="224.9" x2="212.1" y2="224.9" stroke="#231f20" stroke-width="1.0" />
<line x1="209.5" y1="215.36" x2="212.1" y2="215.36" stroke="#231f20" stroke-width="1.0" />
<line x1="209.5" y1="207.97" x2="212.1" y2="207.97" stroke="#231f20" stroke-width="1.0" />
<line x1="209.5" y1="201.93" x2="212.1" y2="201.93" stroke="#231f20" stroke-width="1.0" />
<line x1="209.5" y1="196.82" x2="212.1" y2="196.82" stroke="#231f20" stroke-width="1.0" />
<line x1="209.5" y1="192.39" x2="212.1" y2="192.39" stroke="#231f20" stroke-width="1.0" />
<line x1="209.5" y1="188.49" x2="212.1" y2="188.49" stroke="#231f20" stroke-width="1.0" />
<line x1="212.1" y1="261.3" x2="212.1" y2="265.3" stroke="#231f20" stroke-width="1.2" />
<text transform="translate(211.6 274.6) scale(0.8929 1)" font-size="9.52" text-anchor="middle" fill="#231f20" font-weight="normal" >0</text>
<line x1="245.8" y1="261.3" x2="245.8" y2="265.3" stroke="#231f20" stroke-width="1.2" />
<text transform="translate(245.3 274.6) scale(0.8929 1)" font-size="9.52" text-anchor="middle" fill="#231f20" font-weight="normal" >2</text>
<line x1="279.5" y1="261.3" x2="279.5" y2="265.3" stroke="#231f20" stroke-width="1.2" />
<text transform="translate(279 274.6) scale(0.8929 1)" font-size="9.52" text-anchor="middle" fill="#231f20" font-weight="normal" >4</text>
<line x1="313.2" y1="261.3" x2="313.2" y2="265.3" stroke="#231f20" stroke-width="1.2" />
<text transform="translate(312.7 274.6) scale(0.8929 1)" font-size="9.52" text-anchor="middle" fill="#231f20" font-weight="normal" >6</text>
<line x1="346.9" y1="261.3" x2="346.9" y2="265.3" stroke="#231f20" stroke-width="1.2" />
<text transform="translate(346.4 274.6) scale(0.8929 1)" font-size="9.52" text-anchor="middle" fill="#231f20" font-weight="normal" >8</text>
<text transform="translate(282.5 283.6) scale(0.9259 1)" font-size="9.83" text-anchor="middle" fill="#231f20" font-weight="normal" >IR (Gy)</text>
<text transform="translate(280.5 172.5) scale(0.9259 1)" font-size="10.04" text-anchor="middle" fill="#231f20" font-weight="normal" >NCI-H82</text>
<line x1="245.8" y1="173.3" x2="245.8" y2="183" stroke="#a5b9d5" stroke-width="0.9" />
<line x1="244" y1="173.3" x2="247.6" y2="173.3" stroke="#a5b9d5" stroke-width="0.9" />
<line x1="244" y1="183" x2="247.6" y2="183" stroke="#a5b9d5" stroke-width="0.9" />
<line x1="279.5" y1="180.4" x2="279.5" y2="190" stroke="#a5b9d5" stroke-width="0.9" />
<line x1="277.7" y1="180.4" x2="281.3" y2="180.4" stroke="#a5b9d5" stroke-width="0.9" />
<line x1="277.7" y1="190" x2="281.3" y2="190" stroke="#a5b9d5" stroke-width="0.9" />
<line x1="346.9" y1="201.5" x2="346.9" y2="208" stroke="#a5b9d5" stroke-width="0.9" />
<line x1="345.1" y1="201.5" x2="348.7" y2="201.5" stroke="#a5b9d5" stroke-width="0.9" />
<line x1="345.1" y1="208" x2="348.7" y2="208" stroke="#a5b9d5" stroke-width="0.9" />
<line x1="245.8" y1="181" x2="245.8" y2="191" stroke="#e0ada1" stroke-width="0.9" />
<line x1="244" y1="181" x2="247.6" y2="181" stroke="#e0ada1" stroke-width="0.9" />
<line x1="244" y1="191" x2="247.6" y2="191" stroke="#e0ada1" stroke-width="0.9" />
<line x1="279.5" y1="198" x2="279.5" y2="204.5" stroke="#e0ada1" stroke-width="0.9" />
<line x1="277.7" y1="198" x2="281.3" y2="198" stroke="#e0ada1" stroke-width="0.9" />
<line x1="277.7" y1="204.5" x2="281.3" y2="204.5" stroke="#e0ada1" stroke-width="0.9" />
<line x1="346.9" y1="227" x2="346.9" y2="235.5" stroke="#e0ada1" stroke-width="0.9" />
<line x1="345.1" y1="227" x2="348.7" y2="227" stroke="#e0ada1" stroke-width="0.9" />
<line x1="345.1" y1="235.5" x2="348.7" y2="235.5" stroke="#e0ada1" stroke-width="0.9" />
<polyline points="212.1,185 216.31,184.97 220.53,184.99 224.74,185.04 228.95,185.14 233.16,185.28 237.38,185.46 241.59,185.69 245.8,185.96 250.01,186.27 254.22,186.62 258.44,187.02 262.65,187.46 266.86,187.94 271.07,188.47 275.29,189.03 279.5,189.64 283.71,190.29 287.93,190.98 292.14,191.72 296.35,192.5 300.56,193.32 304.77,194.19 308.99,195.09 313.2,196.04 317.41,197.03 321.62,198.06 325.84,199.14 330.05,200.26 334.26,201.42 338.48,202.62 342.69,203.87 346.9,205.16" fill="none" stroke="#3574b6" stroke-width="2.1" stroke-linejoin="round" stroke-linecap="butt" />
<polyline points="212.1,185 216.31,185.02 220.53,185.13 224.74,185.34 228.95,185.63 233.16,186.02 237.38,186.49 241.59,187.06 245.8,187.72 250.01,188.47 254.22,189.31 258.44,190.25 262.65,191.27 266.86,192.39 271.07,193.59 275.29,194.89 279.5,196.28 283.71,197.76 287.93,199.33 292.14,201 296.35,202.75 300.56,204.6 304.77,206.53 308.99,208.56 313.2,210.68 317.41,212.89 321.62,215.19 325.84,217.59 330.05,220.07 334.26,222.65 338.48,225.31 342.69,228.07 346.9,230.92" fill="none" stroke="#d83c2c" stroke-width="2.1" stroke-linejoin="round" stroke-linecap="butt" />
<rect x="209.6" y="182.5" width="5.0" height="5.0" fill="#d83c2c"/>
<rect x="226.45" y="178.7" width="5.0" height="5.0" fill="#d83c2c"/>
<rect x="243.3" y="183.3" width="5.0" height="5.0" fill="#d83c2c"/>
<rect x="277" y="198.7" width="5.0" height="5.0" fill="#d83c2c"/>
<rect x="344.4" y="228.8" width="5.0" height="5.0" fill="#d83c2c"/>
<circle cx="212.1" cy="185" r="2.6" fill="#3574b6"/>
<circle cx="228.95" cy="174.3" r="2.6" fill="#3574b6"/>
<circle cx="245.8" cy="178.5" r="2.6" fill="#3574b6"/>
<circle cx="279.5" cy="185.2" r="2.6" fill="#3574b6"/>
<circle cx="346.9" cy="204.7" r="2.6" fill="#3574b6"/>
<line x1="220.9" y1="238.5" x2="240.1" y2="238.5" stroke="#3574b6" stroke-width="2.0" />
<circle cx="230.5" cy="238.5" r="2.4" fill="#3574b6"/>
<text transform="translate(247.7 241.5) scale(0.9259 1)" font-size="8.96" text-anchor="start" fill="#231f20" font-weight="normal" >DMSO</text>
<line x1="220.9" y1="250.4" x2="240.1" y2="250.4" stroke="#d83c2c" stroke-width="2.0" />
<rect x="228" y="247.9" width="5.0" height="5.0" fill="#d83c2c"/>
<text transform="translate(247.7 253.4) scale(0.9259 1)" font-size="8.96" text-anchor="start" fill="#231f20" font-weight="normal" >20 nmol/L Talazoparib</text>
<line x1="373.6" y1="173.2" x2="373.6" y2="263.4" stroke="#231f20" stroke-width="1.2" />
<line x1="373.1" y1="262.8" x2="508.98" y2="262.8" stroke="#231f20" stroke-width="1.2" />
<line x1="369.3" y1="185.7" x2="373.6" y2="185.7" stroke="#231f20" stroke-width="1.2" />
<text transform="translate(367.8 188.8) scale(1.0000 1)" font-size="8.90" text-anchor="end" fill="#231f20" font-weight="normal" >100</text>
<line x1="369.3" y1="262.8" x2="373.6" y2="262.8" stroke="#231f20" stroke-width="1.2" />
<text transform="translate(367.8 265.9) scale(1.0000 1)" font-size="8.90" text-anchor="end" fill="#231f20" font-weight="normal" >10</text>
<line x1="371" y1="239.59" x2="373.6" y2="239.59" stroke="#231f20" stroke-width="1.0" />
<line x1="371" y1="226.01" x2="373.6" y2="226.01" stroke="#231f20" stroke-width="1.0" />
<line x1="371" y1="216.38" x2="373.6" y2="216.38" stroke="#231f20" stroke-width="1.0" />
<line x1="371" y1="208.91" x2="373.6" y2="208.91" stroke="#231f20" stroke-width="1.0" />
<line x1="371" y1="202.8" x2="373.6" y2="202.8" stroke="#231f20" stroke-width="1.0" />
<line x1="371" y1="197.64" x2="373.6" y2="197.64" stroke="#231f20" stroke-width="1.0" />
<line x1="371" y1="193.17" x2="373.6" y2="193.17" stroke="#231f20" stroke-width="1.0" />
<line x1="371" y1="189.23" x2="373.6" y2="189.23" stroke="#231f20" stroke-width="1.0" />
<line x1="373.6" y1="262.8" x2="373.6" y2="266.8" stroke="#231f20" stroke-width="1.2" />
<text transform="translate(373.1 276.1) scale(0.8929 1)" font-size="9.52" text-anchor="middle" fill="#231f20" font-weight="normal" >0</text>
<line x1="407.32" y1="262.8" x2="407.32" y2="266.8" stroke="#231f20" stroke-width="1.2" />
<text transform="translate(406.82 276.1) scale(0.8929 1)" font-size="9.52" text-anchor="middle" fill="#231f20" font-weight="normal" >2</text>
<line x1="441.04" y1="262.8" x2="441.04" y2="266.8" stroke="#231f20" stroke-width="1.2" />
<text transform="translate(440.54 276.1) scale(0.8929 1)" font-size="9.52" text-anchor="middle" fill="#231f20" font-weight="normal" >4</text>
<line x1="474.76" y1="262.8" x2="474.76" y2="266.8" stroke="#231f20" stroke-width="1.2" />
<text transform="translate(474.26 276.1) scale(0.8929 1)" font-size="9.52" text-anchor="middle" fill="#231f20" font-weight="normal" >6</text>
<line x1="508.48" y1="262.8" x2="508.48" y2="266.8" stroke="#231f20" stroke-width="1.2" />
<text transform="translate(507.98 276.1) scale(0.8929 1)" font-size="9.52" text-anchor="middle" fill="#231f20" font-weight="normal" >8</text>
<text transform="translate(444.04 283.6) scale(0.9259 1)" font-size="9.83" text-anchor="middle" fill="#231f20" font-weight="normal" >IR (Gy)</text>
<text transform="translate(442.04 172.5) scale(0.9259 1)" font-size="10.04" text-anchor="middle" fill="#231f20" font-weight="normal" >NCI-H526</text>
<line x1="407.32" y1="189.4" x2="407.32" y2="198" stroke="#a5b9d5" stroke-width="0.9" />
<line x1="405.52" y1="189.4" x2="409.12" y2="189.4" stroke="#a5b9d5" stroke-width="0.9" />
<line x1="405.52" y1="198" x2="409.12" y2="198" stroke="#a5b9d5" stroke-width="0.9" />
<line x1="508.48" y1="210.5" x2="508.48" y2="221.9" stroke="#a5b9d5" stroke-width="0.9" />
<line x1="506.68" y1="210.5" x2="510.28" y2="210.5" stroke="#a5b9d5" stroke-width="0.9" />
<line x1="506.68" y1="221.9" x2="510.28" y2="221.9" stroke="#a5b9d5" stroke-width="0.9" />
<line x1="508.48" y1="242" x2="508.48" y2="256" stroke="#e0ada1" stroke-width="0.9" />
<line x1="506.68" y1="242" x2="510.28" y2="242" stroke="#e0ada1" stroke-width="0.9" />
<line x1="506.68" y1="256" x2="510.28" y2="256" stroke="#e0ada1" stroke-width="0.9" />
<polyline points="373.6,185.7 377.81,186.63 382.03,187.55 386.25,188.48 390.46,189.41 394.68,190.34 398.89,191.26 403.11,192.19 407.32,193.12 411.54,194.05 415.75,194.97 419.97,195.9 424.18,196.83 428.4,197.76 432.61,198.69 436.83,199.61 441.04,200.54 445.25,201.47 449.47,202.39 453.69,203.32 457.9,204.25 462.12,205.18 466.33,206.1 470.55,207.03 474.76,207.96 478.98,208.89 483.19,209.81 487.41,210.74 491.62,211.67 495.84,212.6 500.05,213.52 504.26,214.45 508.48,215.38" fill="none" stroke="#3574b6" stroke-width="2.1" stroke-linejoin="round" stroke-linecap="butt" />
<polyline points="373.6,185.7 377.81,187.65 382.03,189.59 386.25,191.54 390.46,193.49 394.68,195.44 398.89,197.38 403.11,199.33 407.32,201.28 411.54,203.23 415.75,205.17 419.97,207.12 424.18,209.07 428.4,211.02 432.61,212.96 436.83,214.91 441.04,216.86 445.25,218.81 449.47,220.75 453.69,222.7 457.9,224.65 462.12,226.6 466.33,228.54 470.55,230.49 474.76,232.44 478.98,234.39 483.19,236.33 487.41,238.28 491.62,240.23 495.84,242.18 500.05,244.12 504.26,246.07 508.48,248.02" fill="none" stroke="#d83c2c" stroke-width="2.1" stroke-linejoin="round" stroke-linecap="butt" />
<rect x="371.1" y="183.2" width="5.0" height="5.0" fill="#d83c2c"/>
<rect x="387.96" y="191.8" width="5.0" height="5.0" fill="#d83c2c"/>
<rect x="404.82" y="198.2" width="5.0" height="5.0" fill="#d83c2c"/>
<rect x="438.54" y="214.6" width="5.0" height="5.0" fill="#d83c2c"/>
<rect x="505.98" y="245.5" width="5.0" height="5.0" fill="#d83c2c"/>
<circle cx="373.6" cy="185.7" r="2.6" fill="#3574b6"/>
<circle cx="390.46" cy="191.1" r="2.6" fill="#3574b6"/>
<circle cx="407.32" cy="193.7" r="2.6" fill="#3574b6"/>
<circle cx="441.04" cy="199.8" r="2.6" fill="#3574b6"/>
<circle cx="508.48" cy="215.4" r="2.6" fill="#3574b6"/>
<line x1="382.2" y1="239.6" x2="401.4" y2="239.6" stroke="#3574b6" stroke-width="2.0" />
<circle cx="391.8" cy="239.6" r="2.4" fill="#3574b6"/>
<text transform="translate(407.2 242.6) scale(0.9259 1)" font-size="8.96" text-anchor="start" fill="#231f20" font-weight="normal" >DMSO</text>
<line x1="382.2" y1="251.6" x2="401.4" y2="251.6" stroke="#d83c2c" stroke-width="2.0" />
<rect x="389.3" y="249.1" width="5.0" height="5.0" fill="#d83c2c"/>
<text transform="translate(407.2 254.6) scale(0.9259 1)" font-size="8.96" text-anchor="start" fill="#231f20" font-weight="normal" >20 nmol/L Talazoparib</text>
<line x1="48.5" y1="307.6" x2="48.5" y2="397.5" stroke="#231f20" stroke-width="1.2" />
<line x1="48" y1="396.9" x2="183.64" y2="396.9" stroke="#231f20" stroke-width="1.2" />
<line x1="44.2" y1="321.2" x2="48.5" y2="321.2" stroke="#231f20" stroke-width="1.2" />
<text transform="translate(42.7 324.3) scale(1.0000 1)" font-size="8.90" text-anchor="end" fill="#231f20" font-weight="normal" >100</text>
<line x1="44.2" y1="396.9" x2="48.5" y2="396.9" stroke="#231f20" stroke-width="1.2" />
<text transform="translate(42.7 400) scale(1.0000 1)" font-size="8.90" text-anchor="end" fill="#231f20" font-weight="normal" >10</text>
<line x1="45.9" y1="374.11" x2="48.5" y2="374.11" stroke="#231f20" stroke-width="1.0" />
<line x1="45.9" y1="360.78" x2="48.5" y2="360.78" stroke="#231f20" stroke-width="1.0" />
<line x1="45.9" y1="351.32" x2="48.5" y2="351.32" stroke="#231f20" stroke-width="1.0" />
<line x1="45.9" y1="343.99" x2="48.5" y2="343.99" stroke="#231f20" stroke-width="1.0" />
<line x1="45.9" y1="337.99" x2="48.5" y2="337.99" stroke="#231f20" stroke-width="1.0" />
<line x1="45.9" y1="332.93" x2="48.5" y2="332.93" stroke="#231f20" stroke-width="1.0" />
<line x1="45.9" y1="328.54" x2="48.5" y2="328.54" stroke="#231f20" stroke-width="1.0" />
<line x1="45.9" y1="324.66" x2="48.5" y2="324.66" stroke="#231f20" stroke-width="1.0" />
<line x1="48.5" y1="396.9" x2="48.5" y2="400.9" stroke="#231f20" stroke-width="1.2" />
<text transform="translate(48 410.2) scale(0.8929 1)" font-size="9.52" text-anchor="middle" fill="#231f20" font-weight="normal" >0</text>
<line x1="82.16" y1="396.9" x2="82.16" y2="400.9" stroke="#231f20" stroke-width="1.2" />
<text transform="translate(81.66 410.2) scale(0.8929 1)" font-size="9.52" text-anchor="middle" fill="#231f20" font-weight="normal" >2</text>
<line x1="115.82" y1="396.9" x2="115.82" y2="400.9" stroke="#231f20" stroke-width="1.2" />
<text transform="translate(115.32 410.2) scale(0.8929 1)" font-size="9.52" text-anchor="middle" fill="#231f20" font-weight="normal" >4</text>
<line x1="149.48" y1="396.9" x2="149.48" y2="400.9" stroke="#231f20" stroke-width="1.2" />
<text transform="translate(148.98 410.2) scale(0.8929 1)" font-size="9.52" text-anchor="middle" fill="#231f20" font-weight="normal" >6</text>
<line x1="183.14" y1="396.9" x2="183.14" y2="400.9" stroke="#231f20" stroke-width="1.2" />
<text transform="translate(182.64 410.2) scale(0.8929 1)" font-size="9.52" text-anchor="middle" fill="#231f20" font-weight="normal" >8</text>
<text transform="translate(118.82 421.4) scale(0.9259 1)" font-size="9.83" text-anchor="middle" fill="#231f20" font-weight="normal" >IR (Gy)</text>
<text transform="translate(116.82 308.4) scale(0.9259 1)" font-size="10.04" text-anchor="middle" fill="#231f20" font-weight="normal" >NCI-H146</text>
<line x1="82.16" y1="328" x2="82.16" y2="336" stroke="#a5b9d5" stroke-width="0.9" />
<line x1="80.36" y1="328" x2="83.96" y2="328" stroke="#a5b9d5" stroke-width="0.9" />
<line x1="80.36" y1="336" x2="83.96" y2="336" stroke="#a5b9d5" stroke-width="0.9" />
<line x1="115.82" y1="333.6" x2="115.82" y2="353.6" stroke="#a5b9d5" stroke-width="0.9" />
<line x1="114.02" y1="333.6" x2="117.62" y2="333.6" stroke="#a5b9d5" stroke-width="0.9" />
<line x1="114.02" y1="353.6" x2="117.62" y2="353.6" stroke="#a5b9d5" stroke-width="0.9" />
<line x1="183.14" y1="358.2" x2="183.14" y2="373.2" stroke="#a5b9d5" stroke-width="0.9" />
<line x1="181.34" y1="358.2" x2="184.94" y2="358.2" stroke="#a5b9d5" stroke-width="0.9" />
<line x1="181.34" y1="373.2" x2="184.94" y2="373.2" stroke="#a5b9d5" stroke-width="0.9" />
<line x1="65.33" y1="325" x2="65.33" y2="343.5" stroke="#e0ada1" stroke-width="0.9" />
<line x1="63.53" y1="325" x2="67.13" y2="325" stroke="#e0ada1" stroke-width="0.9" />
<line x1="63.53" y1="343.5" x2="67.13" y2="343.5" stroke="#e0ada1" stroke-width="0.9" />
<line x1="82.16" y1="341" x2="82.16" y2="356" stroke="#e0ada1" stroke-width="0.9" />
<line x1="80.36" y1="341" x2="83.96" y2="341" stroke="#e0ada1" stroke-width="0.9" />
<line x1="80.36" y1="356" x2="83.96" y2="356" stroke="#e0ada1" stroke-width="0.9" />
<line x1="115.82" y1="357" x2="115.82" y2="369.7" stroke="#e0ada1" stroke-width="0.9" />
<line x1="114.02" y1="357" x2="117.62" y2="357" stroke="#e0ada1" stroke-width="0.9" />
<line x1="114.02" y1="369.7" x2="117.62" y2="369.7" stroke="#e0ada1" stroke-width="0.9" />
<line x1="183.14" y1="377.3" x2="183.14" y2="389.3" stroke="#e0ada1" stroke-width="0.9" />
<line x1="181.34" y1="377.3" x2="184.94" y2="377.3" stroke="#e0ada1" stroke-width="0.9" />
<line x1="181.34" y1="389.3" x2="184.94" y2="389.3" stroke="#e0ada1" stroke-width="0.9" />
<polyline points="48.5,321.2 52.71,322.57 56.91,323.95 61.12,325.32 65.33,326.7 69.54,328.07 73.75,329.45 77.95,330.82 82.16,332.2 86.37,333.57 90.57,334.95 94.78,336.32 98.99,337.7 103.2,339.07 107.41,340.45 111.61,341.82 115.82,343.2 120.03,344.57 124.23,345.95 128.44,347.32 132.65,348.7 136.86,350.07 141.06,351.45 145.27,352.82 149.48,354.2 153.69,355.57 157.89,356.95 162.1,358.32 166.31,359.7 170.52,361.07 174.72,362.45 178.93,363.82 183.14,365.2" fill="none" stroke="#3574b6" stroke-width="2.1" stroke-linejoin="round" stroke-linecap="butt" />
<polyline points="48.5,321.2 52.71,323.31 56.91,325.43 61.12,327.54 65.33,329.65 69.54,331.76 73.75,333.88 77.95,335.99 82.16,338.1 86.37,340.21 90.57,342.32 94.78,344.44 98.99,346.55 103.2,348.66 107.41,350.77 111.61,352.89 115.82,355 120.03,357.11 124.23,359.22 128.44,361.34 132.65,363.45 136.86,365.56 141.06,367.67 145.27,369.79 149.48,371.9 153.69,374.01 157.89,376.12 162.1,378.24 166.31,380.35 170.52,382.46 174.72,384.57 178.93,386.69 183.14,388.8" fill="none" stroke="#d83c2c" stroke-width="2.1" stroke-linejoin="round" stroke-linecap="butt" />
<rect x="46" y="318.7" width="5.0" height="5.0" fill="#d83c2c"/>
<rect x="62.83" y="331.7" width="5.0" height="5.0" fill="#d83c2c"/>
<rect x="79.66" y="346" width="5.0" height="5.0" fill="#d83c2c"/>
<rect x="113.32" y="361" width="5.0" height="5.0" fill="#d83c2c"/>
<rect x="180.64" y="380.5" width="5.0" height="5.0" fill="#d83c2c"/>
<circle cx="48.5" cy="321.2" r="2.6" fill="#3574b6"/>
<circle cx="65.33" cy="325.8" r="2.6" fill="#3574b6"/>
<circle cx="82.16" cy="332.2" r="2.6" fill="#3574b6"/>
<circle cx="115.82" cy="343.3" r="2.6" fill="#3574b6"/>
<circle cx="183.14" cy="364.7" r="2.6" fill="#3574b6"/>
<line x1="57.2" y1="374.6" x2="76.4" y2="374.6" stroke="#3574b6" stroke-width="2.0" />
<circle cx="66.8" cy="374.6" r="2.4" fill="#3574b6"/>
<text transform="translate(81.2 377.6) scale(0.9259 1)" font-size="8.96" text-anchor="start" fill="#231f20" font-weight="normal" >DMSO</text>
<line x1="57.2" y1="386.6" x2="76.4" y2="386.6" stroke="#d83c2c" stroke-width="2.0" />
<rect x="64.3" y="384.1" width="5.0" height="5.0" fill="#d83c2c"/>
<text transform="translate(81.2 389.6) scale(0.9259 1)" font-size="8.96" text-anchor="start" fill="#231f20" font-weight="normal" >0.2 nmol/L Talazoparib</text>
<line x1="211.8" y1="307.5" x2="211.8" y2="397.3" stroke="#231f20" stroke-width="1.2" />
<line x1="211.3" y1="396.7" x2="347.18" y2="396.7" stroke="#231f20" stroke-width="1.2" />
<line x1="207.5" y1="320.6" x2="211.8" y2="320.6" stroke="#231f20" stroke-width="1.2" />
<text transform="translate(206 323.7) scale(1.0000 1)" font-size="8.90" text-anchor="end" fill="#231f20" font-weight="normal" >100</text>
<line x1="207.5" y1="396.7" x2="211.8" y2="396.7" stroke="#231f20" stroke-width="1.2" />
<text transform="translate(206 399.8) scale(1.0000 1)" font-size="8.90" text-anchor="end" fill="#231f20" font-weight="normal" >10</text>
<line x1="209.2" y1="373.79" x2="211.8" y2="373.79" stroke="#231f20" stroke-width="1.0" />
<line x1="209.2" y1="360.39" x2="211.8" y2="360.39" stroke="#231f20" stroke-width="1.0" />
<line x1="209.2" y1="350.88" x2="211.8" y2="350.88" stroke="#231f20" stroke-width="1.0" />
<line x1="209.2" y1="343.51" x2="211.8" y2="343.51" stroke="#231f20" stroke-width="1.0" />
<line x1="209.2" y1="337.48" x2="211.8" y2="337.48" stroke="#231f20" stroke-width="1.0" />
<line x1="209.2" y1="332.39" x2="211.8" y2="332.39" stroke="#231f20" stroke-width="1.0" />
<line x1="209.2" y1="327.97" x2="211.8" y2="327.97" stroke="#231f20" stroke-width="1.0" />
<line x1="209.2" y1="324.08" x2="211.8" y2="324.08" stroke="#231f20" stroke-width="1.0" />
<line x1="211.8" y1="396.7" x2="211.8" y2="400.7" stroke="#231f20" stroke-width="1.2" />
<text transform="translate(211.3 410) scale(0.8929 1)" font-size="9.52" text-anchor="middle" fill="#231f20" font-weight="normal" >0</text>
<line x1="245.52" y1="396.7" x2="245.52" y2="400.7" stroke="#231f20" stroke-width="1.2" />
<text transform="translate(245.02 410) scale(0.8929 1)" font-size="9.52" text-anchor="middle" fill="#231f20" font-weight="normal" >2</text>
<line x1="279.24" y1="396.7" x2="279.24" y2="400.7" stroke="#231f20" stroke-width="1.2" />
<text transform="translate(278.74 410) scale(0.8929 1)" font-size="9.52" text-anchor="middle" fill="#231f20" font-weight="normal" >4</text>
<line x1="312.96" y1="396.7" x2="312.96" y2="400.7" stroke="#231f20" stroke-width="1.2" />
<text transform="translate(312.46 410) scale(0.8929 1)" font-size="9.52" text-anchor="middle" fill="#231f20" font-weight="normal" >6</text>
<line x1="346.68" y1="396.7" x2="346.68" y2="400.7" stroke="#231f20" stroke-width="1.2" />
<text transform="translate(346.18 410) scale(0.8929 1)" font-size="9.52" text-anchor="middle" fill="#231f20" font-weight="normal" >8</text>
<text transform="translate(282.24 421.4) scale(0.9259 1)" font-size="9.83" text-anchor="middle" fill="#231f20" font-weight="normal" >IR (Gy)</text>
<text transform="translate(280.24 308.4) scale(0.9259 1)" font-size="10.04" text-anchor="middle" fill="#231f20" font-weight="normal" >NCI-H1618</text>
<line x1="228.66" y1="316" x2="228.66" y2="330.5" stroke="#a5b9d5" stroke-width="0.9" />
<line x1="226.86" y1="316" x2="230.46" y2="316" stroke="#a5b9d5" stroke-width="0.9" />
<line x1="226.86" y1="330.5" x2="230.46" y2="330.5" stroke="#a5b9d5" stroke-width="0.9" />
<line x1="245.52" y1="320" x2="245.52" y2="333" stroke="#a5b9d5" stroke-width="0.9" />
<line x1="243.72" y1="320" x2="247.32" y2="320" stroke="#a5b9d5" stroke-width="0.9" />
<line x1="243.72" y1="333" x2="247.32" y2="333" stroke="#a5b9d5" stroke-width="0.9" />
<line x1="228.66" y1="315.8" x2="228.66" y2="330.5" stroke="#e0ada1" stroke-width="0.9" />
<line x1="226.86" y1="315.8" x2="230.46" y2="315.8" stroke="#e0ada1" stroke-width="0.9" />
<line x1="226.86" y1="330.5" x2="230.46" y2="330.5" stroke="#e0ada1" stroke-width="0.9" />
<line x1="245.52" y1="320" x2="245.52" y2="333" stroke="#e0ada1" stroke-width="0.9" />
<line x1="243.72" y1="320" x2="247.32" y2="320" stroke="#e0ada1" stroke-width="0.9" />
<line x1="243.72" y1="333" x2="247.32" y2="333" stroke="#e0ada1" stroke-width="0.9" />
<line x1="279.24" y1="334" x2="279.24" y2="347" stroke="#e0ada1" stroke-width="0.9" />
<line x1="277.44" y1="334" x2="281.04" y2="334" stroke="#e0ada1" stroke-width="0.9" />
<line x1="277.44" y1="347" x2="281.04" y2="347" stroke="#e0ada1" stroke-width="0.9" />
<line x1="346.68" y1="345.4" x2="346.68" y2="354.9" stroke="#e0ada1" stroke-width="0.9" />
<line x1="344.88" y1="345.4" x2="348.48" y2="345.4" stroke="#e0ada1" stroke-width="0.9" />
<line x1="344.88" y1="354.9" x2="348.48" y2="354.9" stroke="#e0ada1" stroke-width="0.9" />
<polyline points="211.8,320.6 216.02,321.13 220.23,321.66 224.45,322.19 228.66,322.73 232.88,323.26 237.09,323.79 241.31,324.32 245.52,324.85 249.74,325.38 253.95,325.91 258.17,326.44 262.38,326.98 266.6,327.51 270.81,328.04 275.02,328.57 279.24,329.1 283.46,329.63 287.67,330.16 291.88,330.69 296.1,331.23 300.31,331.76 304.53,332.29 308.75,332.82 312.96,333.35 317.18,333.88 321.39,334.41 325.61,334.94 329.82,335.48 334.04,336.01 338.25,336.54 342.47,337.07 346.68,337.6" fill="none" stroke="#3574b6" stroke-width="2.1" stroke-linejoin="round" stroke-linecap="butt" />
<polyline points="211.8,320.6 216.02,321.53 220.23,322.46 224.45,323.39 228.66,324.33 232.88,325.26 237.09,326.19 241.31,327.12 245.52,328.05 249.74,328.98 253.95,329.91 258.17,330.84 262.38,331.78 266.6,332.71 270.81,333.64 275.02,334.57 279.24,335.5 283.46,336.43 287.67,337.36 291.88,338.29 296.1,339.23 300.31,340.16 304.53,341.09 308.75,342.02 312.96,342.95 317.18,343.88 321.39,344.81 325.61,345.74 329.82,346.68 334.04,347.61 338.25,348.54 342.47,349.47 346.68,350.4" fill="none" stroke="#d83c2c" stroke-width="2.1" stroke-linejoin="round" stroke-linecap="butt" />
<rect x="209.3" y="318.1" width="5.0" height="5.0" fill="#d83c2c"/>
<rect x="226.16" y="318.5" width="5.0" height="5.0" fill="#d83c2c"/>
<rect x="243.02" y="323.3" width="5.0" height="5.0" fill="#d83c2c"/>
<rect x="276.74" y="338" width="5.0" height="5.0" fill="#d83c2c"/>
<rect x="344.18" y="347.3" width="5.0" height="5.0" fill="#d83c2c"/>
<circle cx="211.8" cy="320.6" r="2.6" fill="#3574b6"/>
<circle cx="228.66" cy="321.8" r="2.6" fill="#3574b6"/>
<circle cx="245.52" cy="324.8" r="2.6" fill="#3574b6"/>
<circle cx="279.24" cy="334.3" r="2.6" fill="#3574b6"/>
<circle cx="346.68" cy="336.5" r="2.6" fill="#3574b6"/>
<line x1="220.7" y1="374.1" x2="239.9" y2="374.1" stroke="#3574b6" stroke-width="2.0" />
<circle cx="230.3" cy="374.1" r="2.4" fill="#3574b6"/>
<text transform="translate(243.8 377.1) scale(0.9259 1)" font-size="8.96" text-anchor="start" fill="#231f20" font-weight="normal" >DMSO</text>
<line x1="220.7" y1="386" x2="239.9" y2="386" stroke="#d83c2c" stroke-width="2.0" />
<rect x="227.8" y="383.5" width="5.0" height="5.0" fill="#d83c2c"/>
<text transform="translate(243.8 389) scale(0.9259 1)" font-size="8.96" text-anchor="start" fill="#231f20" font-weight="normal" >20 nmol/L Talazoparib</text>
<line x1="372.5" y1="307.5" x2="372.5" y2="397.5" stroke="#231f20" stroke-width="1.2" />
<line x1="372" y1="396.9" x2="508.52" y2="396.9" stroke="#231f20" stroke-width="1.2" />
<line x1="368.2" y1="320.6" x2="372.5" y2="320.6" stroke="#231f20" stroke-width="1.2" />
<text transform="translate(366.7 323.7) scale(1.0000 1)" font-size="8.90" text-anchor="end" fill="#231f20" font-weight="normal" >100</text>
<line x1="368.2" y1="396.9" x2="372.5" y2="396.9" stroke="#231f20" stroke-width="1.2" />
<text transform="translate(366.7 400) scale(1.0000 1)" font-size="8.90" text-anchor="end" fill="#231f20" font-weight="normal" >10</text>
<line x1="369.9" y1="373.93" x2="372.5" y2="373.93" stroke="#231f20" stroke-width="1.0" />
<line x1="369.9" y1="360.5" x2="372.5" y2="360.5" stroke="#231f20" stroke-width="1.0" />
<line x1="369.9" y1="350.96" x2="372.5" y2="350.96" stroke="#231f20" stroke-width="1.0" />
<line x1="369.9" y1="343.57" x2="372.5" y2="343.57" stroke="#231f20" stroke-width="1.0" />
<line x1="369.9" y1="337.53" x2="372.5" y2="337.53" stroke="#231f20" stroke-width="1.0" />
<line x1="369.9" y1="332.42" x2="372.5" y2="332.42" stroke="#231f20" stroke-width="1.0" />
<line x1="369.9" y1="327.99" x2="372.5" y2="327.99" stroke="#231f20" stroke-width="1.0" />
<line x1="369.9" y1="324.09" x2="372.5" y2="324.09" stroke="#231f20" stroke-width="1.0" />
<line x1="372.5" y1="396.9" x2="372.5" y2="400.9" stroke="#231f20" stroke-width="1.2" />
<text transform="translate(372 410.2) scale(0.8929 1)" font-size="9.52" text-anchor="middle" fill="#231f20" font-weight="normal" >0</text>
<line x1="406.38" y1="396.9" x2="406.38" y2="400.9" stroke="#231f20" stroke-width="1.2" />
<text transform="translate(405.88 410.2) scale(0.8929 1)" font-size="9.52" text-anchor="middle" fill="#231f20" font-weight="normal" >2</text>
<line x1="440.26" y1="396.9" x2="440.26" y2="400.9" stroke="#231f20" stroke-width="1.2" />
<text transform="translate(439.76 410.2) scale(0.8929 1)" font-size="9.52" text-anchor="middle" fill="#231f20" font-weight="normal" >4</text>
<line x1="474.14" y1="396.9" x2="474.14" y2="400.9" stroke="#231f20" stroke-width="1.2" />
<text transform="translate(473.64 410.2) scale(0.8929 1)" font-size="9.52" text-anchor="middle" fill="#231f20" font-weight="normal" >6</text>
<line x1="508.02" y1="396.9" x2="508.02" y2="400.9" stroke="#231f20" stroke-width="1.2" />
<text transform="translate(507.52 410.2) scale(0.8929 1)" font-size="9.52" text-anchor="middle" fill="#231f20" font-weight="normal" >8</text>
<text transform="translate(443.26 421.4) scale(0.9259 1)" font-size="9.83" text-anchor="middle" fill="#231f20" font-weight="normal" >IR (Gy)</text>
<text transform="translate(441.26 308.4) scale(0.9259 1)" font-size="10.04" text-anchor="middle" fill="#231f20" font-weight="normal" >NCI-H69</text>
<line x1="440.26" y1="333" x2="440.26" y2="344" stroke="#a5b9d5" stroke-width="0.9" />
<line x1="438.46" y1="333" x2="442.06" y2="333" stroke="#a5b9d5" stroke-width="0.9" />
<line x1="438.46" y1="344" x2="442.06" y2="344" stroke="#a5b9d5" stroke-width="0.9" />
<line x1="508.02" y1="352" x2="508.02" y2="361" stroke="#a5b9d5" stroke-width="0.9" />
<line x1="506.22" y1="352" x2="509.82" y2="352" stroke="#a5b9d5" stroke-width="0.9" />
<line x1="506.22" y1="361" x2="509.82" y2="361" stroke="#a5b9d5" stroke-width="0.9" />
<line x1="440.26" y1="329.9" x2="440.26" y2="343" stroke="#e0ada1" stroke-width="0.9" />
<line x1="438.46" y1="329.9" x2="442.06" y2="329.9" stroke="#e0ada1" stroke-width="0.9" />
<line x1="438.46" y1="343" x2="442.06" y2="343" stroke="#e0ada1" stroke-width="0.9" />
<line x1="508.02" y1="349" x2="508.02" y2="358" stroke="#e0ada1" stroke-width="0.9" />
<line x1="506.22" y1="349" x2="509.82" y2="349" stroke="#e0ada1" stroke-width="0.9" />
<line x1="506.22" y1="358" x2="509.82" y2="358" stroke="#e0ada1" stroke-width="0.9" />
<polyline points="372.5,320.6 376.74,321.7 380.97,322.8 385.2,323.9 389.44,325 393.68,326.1 397.91,327.2 402.14,328.3 406.38,329.4 410.62,330.5 414.85,331.6 419.08,332.7 423.32,333.8 427.56,334.9 431.79,336 436.02,337.1 440.26,338.2 444.5,339.3 448.73,340.4 452.97,341.5 457.2,342.6 461.44,343.7 465.67,344.8 469.9,345.9 474.14,347 478.38,348.1 482.61,349.2 486.85,350.3 491.08,351.4 495.31,352.5 499.55,353.6 503.78,354.7 508.02,355.8" fill="none" stroke="#3574b6" stroke-width="2.1" stroke-linejoin="round" stroke-linecap="butt" />
<polyline points="372.5,320.6 376.74,321.18 380.97,321.79 385.2,322.43 389.44,323.09 393.68,323.79 397.91,324.52 402.14,325.27 406.38,326.06 410.62,326.87 414.85,327.71 419.08,328.58 423.32,329.49 427.56,330.42 431.79,331.38 436.02,332.37 440.26,333.38 444.5,334.43 448.73,335.51 452.97,336.61 457.2,337.75 461.44,338.91 465.67,340.11 469.9,341.33 474.14,342.58 478.38,343.87 482.61,345.18 486.85,346.52 491.08,347.89 495.31,349.28 499.55,350.71 503.78,352.17 508.02,353.66" fill="none" stroke="#d83c2c" stroke-width="2.1" stroke-linejoin="round" stroke-linecap="butt" />
<rect x="370" y="318.1" width="5.0" height="5.0" fill="#d83c2c"/>
<rect x="386.94" y="315.9" width="5.0" height="5.0" fill="#d83c2c"/>
<rect x="403.88" y="324.5" width="5.0" height="5.0" fill="#d83c2c"/>
<rect x="437.76" y="331.8" width="5.0" height="5.0" fill="#d83c2c"/>
<rect x="505.52" y="351.3" width="5.0" height="5.0" fill="#d83c2c"/>
<circle cx="372.5" cy="320.6" r="2.6" fill="#3574b6"/>
<circle cx="389.44" cy="324.8" r="2.6" fill="#3574b6"/>
<circle cx="406.38" cy="329.6" r="2.6" fill="#3574b6"/>
<circle cx="440.26" cy="338.7" r="2.6" fill="#3574b6"/>
<circle cx="508.02" cy="356.4" r="2.6" fill="#3574b6"/>
<line x1="381.9" y1="374.4" x2="401.1" y2="374.4" stroke="#3574b6" stroke-width="2.0" />
<circle cx="391.5" cy="374.4" r="2.4" fill="#3574b6"/>
<text transform="translate(406.2 377.4) scale(0.9259 1)" font-size="8.96" text-anchor="start" fill="#231f20" font-weight="normal" >DMSO</text>
<line x1="381.9" y1="386.3" x2="401.1" y2="386.3" stroke="#d83c2c" stroke-width="2.0" />
<rect x="389" y="383.8" width="5.0" height="5.0" fill="#d83c2c"/>
<text transform="translate(406.2 389.3) scale(0.9259 1)" font-size="8.96" text-anchor="start" fill="#231f20" font-weight="normal" >20 nmol/L Talazoparib</text>
<text transform="translate(24.8 217.3) rotate(-90) scale(1.0000 1)" font-size="9.40" text-anchor="middle" fill="#231f20" font-weight="normal" >Proliferation (% control)</text>
<text transform="translate(24.8 353.3) rotate(-90) scale(1.0000 1)" font-size="9.40" text-anchor="middle" fill="#231f20" font-weight="normal" >Proliferation (% control)</text>
<line x1="45.8" y1="451.2" x2="45.8" y2="541.8" stroke="#231f20" stroke-width="1.2" />
<line x1="45.3" y1="541.2" x2="181" y2="541.2" stroke="#231f20" stroke-width="1.2" />
<line x1="41.6" y1="462.2" x2="45.8" y2="462.2" stroke="#231f20" stroke-width="1.2" />
<text transform="translate(40.6 465.1) scale(1.0000 1)" font-size="9.30" text-anchor="end" fill="#231f20" font-weight="normal" >1</text>
<line x1="41.6" y1="486.1" x2="45.8" y2="486.1" stroke="#231f20" stroke-width="1.2" />
<text transform="translate(40.6 489) scale(1.0000 1)" font-size="9.30" text-anchor="end" fill="#231f20" font-weight="normal" >0.1</text>
<line x1="41.6" y1="510" x2="45.8" y2="510" stroke="#231f20" stroke-width="1.2" />
<text transform="translate(40.6 512.9) scale(1.0000 1)" font-size="9.30" text-anchor="end" fill="#231f20" font-weight="normal" >0.01</text>
<line x1="41.6" y1="533.9" x2="45.8" y2="533.9" stroke="#231f20" stroke-width="1.2" />
<text transform="translate(40.6 536.8) scale(1.0000 1)" font-size="9.30" text-anchor="end" fill="#231f20" font-weight="normal" >0.001</text>
<line x1="42.8" y1="455.01" x2="45.8" y2="455.01" stroke="#231f20" stroke-width="1.0" />
<line x1="42.8" y1="478.91" x2="45.8" y2="478.91" stroke="#231f20" stroke-width="1.0" />
<line x1="42.8" y1="474.7" x2="45.8" y2="474.7" stroke="#231f20" stroke-width="1.0" />
<line x1="42.8" y1="471.71" x2="45.8" y2="471.71" stroke="#231f20" stroke-width="1.0" />
<line x1="42.8" y1="469.39" x2="45.8" y2="469.39" stroke="#231f20" stroke-width="1.0" />
<line x1="42.8" y1="467.5" x2="45.8" y2="467.5" stroke="#231f20" stroke-width="1.0" />
<line x1="42.8" y1="465.9" x2="45.8" y2="465.9" stroke="#231f20" stroke-width="1.0" />
<line x1="42.8" y1="464.52" x2="45.8" y2="464.52" stroke="#231f20" stroke-width="1.0" />
<line x1="42.8" y1="463.29" x2="45.8" y2="463.29" stroke="#231f20" stroke-width="1.0" />
<line x1="42.8" y1="502.81" x2="45.8" y2="502.81" stroke="#231f20" stroke-width="1.0" />
<line x1="42.8" y1="498.6" x2="45.8" y2="498.6" stroke="#231f20" stroke-width="1.0" />
<line x1="42.8" y1="495.61" x2="45.8" y2="495.61" stroke="#231f20" stroke-width="1.0" />
<line x1="42.8" y1="493.29" x2="45.8" y2="493.29" stroke="#231f20" stroke-width="1.0" />
<line x1="42.8" y1="491.4" x2="45.8" y2="491.4" stroke="#231f20" stroke-width="1.0" />
<line x1="42.8" y1="489.8" x2="45.8" y2="489.8" stroke="#231f20" stroke-width="1.0" />
<line x1="42.8" y1="488.42" x2="45.8" y2="488.42" stroke="#231f20" stroke-width="1.0" />
<line x1="42.8" y1="487.19" x2="45.8" y2="487.19" stroke="#231f20" stroke-width="1.0" />
<line x1="42.8" y1="526.71" x2="45.8" y2="526.71" stroke="#231f20" stroke-width="1.0" />
<line x1="42.8" y1="522.5" x2="45.8" y2="522.5" stroke="#231f20" stroke-width="1.0" />
<line x1="42.8" y1="519.51" x2="45.8" y2="519.51" stroke="#231f20" stroke-width="1.0" />
<line x1="42.8" y1="517.19" x2="45.8" y2="517.19" stroke="#231f20" stroke-width="1.0" />
<line x1="42.8" y1="515.3" x2="45.8" y2="515.3" stroke="#231f20" stroke-width="1.0" />
<line x1="42.8" y1="513.7" x2="45.8" y2="513.7" stroke="#231f20" stroke-width="1.0" />
<line x1="42.8" y1="512.32" x2="45.8" y2="512.32" stroke="#231f20" stroke-width="1.0" />
<line x1="42.8" y1="511.09" x2="45.8" y2="511.09" stroke="#231f20" stroke-width="1.0" />
<line x1="45.8" y1="541.2" x2="45.8" y2="545.2" stroke="#231f20" stroke-width="1.2" />
<text transform="translate(45.4 554.4) scale(0.8929 1)" font-size="9.63" text-anchor="middle" fill="#231f20" font-weight="normal" >0</text>
<line x1="90.7" y1="541.2" x2="90.7" y2="545.2" stroke="#231f20" stroke-width="1.2" />
<text transform="translate(90.3 554.4) scale(0.8929 1)" font-size="9.63" text-anchor="middle" fill="#231f20" font-weight="normal" >2</text>
<line x1="135.6" y1="541.2" x2="135.6" y2="545.2" stroke="#231f20" stroke-width="1.2" />
<text transform="translate(135.2 554.4) scale(0.8929 1)" font-size="9.63" text-anchor="middle" fill="#231f20" font-weight="normal" >4</text>
<line x1="180.5" y1="541.2" x2="180.5" y2="545.2" stroke="#231f20" stroke-width="1.2" />
<text transform="translate(180.1 554.4) scale(0.8929 1)" font-size="9.63" text-anchor="middle" fill="#231f20" font-weight="normal" >6</text>
<text transform="translate(116.75 565.8) scale(0.9259 1)" font-size="10.26" text-anchor="middle" fill="#231f20" font-weight="normal" >IR (Gy)</text>
<text transform="translate(113.85 450.8) scale(0.9259 1)" font-size="9.94" text-anchor="middle" fill="#231f20" font-weight="normal" >NCI-H446</text>
<line x1="90.7" y1="474.6" x2="90.7" y2="496.2" stroke="#beb9d3" stroke-width="1.1" />
<line x1="88.3" y1="474.6" x2="93.1" y2="474.6" stroke="#beb9d3" stroke-width="1.1" />
<line x1="88.3" y1="496.2" x2="93.1" y2="496.2" stroke="#beb9d3" stroke-width="1.1" />
<line x1="135.6" y1="492" x2="135.6" y2="502.3" stroke="#beb9d3" stroke-width="1.1" />
<line x1="133.2" y1="492" x2="138" y2="492" stroke="#beb9d3" stroke-width="1.1" />
<line x1="133.2" y1="502.3" x2="138" y2="502.3" stroke="#beb9d3" stroke-width="1.1" />
<line x1="180.5" y1="517.5" x2="180.5" y2="534.4" stroke="#beb9d3" stroke-width="1.1" />
<line x1="178.1" y1="517.5" x2="182.9" y2="517.5" stroke="#beb9d3" stroke-width="1.1" />
<line x1="178.1" y1="534.4" x2="182.9" y2="534.4" stroke="#beb9d3" stroke-width="1.1" />
<line x1="90.7" y1="466" x2="90.7" y2="474" stroke="#9abbdc" stroke-width="1.1" />
<line x1="88.3" y1="466" x2="93.1" y2="466" stroke="#9abbdc" stroke-width="1.1" />
<line x1="88.3" y1="474" x2="93.1" y2="474" stroke="#9abbdc" stroke-width="1.1" />
<line x1="135.6" y1="474.5" x2="135.6" y2="480" stroke="#9abbdc" stroke-width="1.1" />
<line x1="133.2" y1="474.5" x2="138" y2="474.5" stroke="#9abbdc" stroke-width="1.1" />
<line x1="133.2" y1="480" x2="138" y2="480" stroke="#9abbdc" stroke-width="1.1" />
<line x1="180.5" y1="490" x2="180.5" y2="497" stroke="#9abbdc" stroke-width="1.1" />
<line x1="178.1" y1="490" x2="182.9" y2="490" stroke="#9abbdc" stroke-width="1.1" />
<line x1="178.1" y1="497" x2="182.9" y2="497" stroke="#9abbdc" stroke-width="1.1" />
<line x1="135.6" y1="478" x2="135.6" y2="485" stroke="#eb9d94" stroke-width="1.1" />
<line x1="133.2" y1="478" x2="138" y2="478" stroke="#eb9d94" stroke-width="1.1" />
<line x1="133.2" y1="485" x2="138" y2="485" stroke="#eb9d94" stroke-width="1.1" />
<line x1="180.5" y1="480.6" x2="180.5" y2="492" stroke="#eb9d94" stroke-width="1.1" />
<line x1="178.1" y1="480.6" x2="182.9" y2="480.6" stroke="#eb9d94" stroke-width="1.1" />
<line x1="178.1" y1="492" x2="182.9" y2="492" stroke="#eb9d94" stroke-width="1.1" />
<line x1="135.6" y1="483" x2="135.6" y2="492.5" stroke="#9ccc9f" stroke-width="1.1" />
<line x1="133.2" y1="483" x2="138" y2="483" stroke="#9ccc9f" stroke-width="1.1" />
<line x1="133.2" y1="492.5" x2="138" y2="492.5" stroke="#9ccc9f" stroke-width="1.1" />
<line x1="180.5" y1="498" x2="180.5" y2="511" stroke="#9ccc9f" stroke-width="1.1" />
<line x1="178.1" y1="498" x2="182.9" y2="498" stroke="#9ccc9f" stroke-width="1.1" />
<line x1="178.1" y1="511" x2="182.9" y2="511" stroke="#9ccc9f" stroke-width="1.1" />
<line x1="90.7" y1="469" x2="90.7" y2="476" stroke="#9ccc9f" stroke-width="1.1" />
<line x1="88.3" y1="469" x2="93.1" y2="469" stroke="#9ccc9f" stroke-width="1.1" />
<line x1="88.3" y1="476" x2="93.1" y2="476" stroke="#9ccc9f" stroke-width="1.1" />
<polyline points="45.8,462.2 51.41,463.91 57.02,465.69 62.64,467.53 68.25,469.43 73.86,471.41 79.47,473.44 85.09,475.54 90.7,477.71 96.31,479.94 101.92,482.24 107.54,484.6 113.15,487.03 118.76,489.52 124.38,492.08 129.99,494.7 135.6,497.39 141.21,500.14 146.82,502.96 152.44,505.84 158.05,508.79 163.66,511.81 169.27,514.88 174.89,518.03 180.5,521.24" fill="none" stroke="#654a9f" stroke-width="2.0" stroke-linejoin="round" stroke-linecap="butt" />
<polyline points="45.8,462.2 51.41,463.32 57.02,464.5 62.64,465.72 68.25,466.99 73.86,468.32 79.47,469.69 85.09,471.11 90.7,472.58 96.31,474.1 101.92,475.67 107.54,477.29 113.15,478.95 118.76,480.67 124.38,482.44 129.99,484.26 135.6,486.12 141.21,488.04 146.82,490 152.44,492.01 158.05,494.08 163.66,496.19 169.27,498.35 174.89,500.57 180.5,502.83" fill="none" stroke="#3a9a40" stroke-width="2.0" stroke-linejoin="round" stroke-linecap="butt" />
<polyline points="45.8,462.2 51.41,463.64 57.02,465.05 62.64,466.42 68.25,467.76 73.86,469.07 79.47,470.34 85.09,471.58 90.7,472.78 96.31,473.96 101.92,475.09 107.54,476.2 113.15,477.27 118.76,478.31 124.38,479.31 129.99,480.28 135.6,481.22 141.21,482.12 146.82,482.99 152.44,483.82 158.05,484.62 163.66,485.39 169.27,486.13 174.89,486.83 180.5,487.49" fill="none" stroke="#d83b2a" stroke-width="2.0" stroke-linejoin="round" stroke-linecap="butt" />
<polyline points="45.8,462.2 51.41,462.69 57.02,463.24 62.64,463.87 68.25,464.57 73.86,465.33 79.47,466.17 85.09,467.07 90.7,468.05 96.31,469.09 101.92,470.21 107.54,471.39 113.15,472.64 118.76,473.97 124.38,475.36 129.99,476.82 135.6,478.35 141.21,479.95 146.82,481.63 152.44,483.37 158.05,485.18 163.66,487.06 169.27,489.01 174.89,491.03 180.5,493.12" fill="none" stroke="#3677b9" stroke-width="2.0" stroke-linejoin="round" stroke-linecap="butt" />
<polygon points="45.8,465.07 43.05,460.29 48.55,460.29" fill="#654a9f"/>
<polygon points="90.7,481.37 87.95,476.59 93.45,476.59" fill="#654a9f"/>
<polygon points="135.6,499.47 132.85,494.69 138.35,494.69" fill="#654a9f"/>
<polygon points="180.5,524.37 177.75,519.59 183.25,519.59" fill="#654a9f"/>
<polygon points="45.8,459.33 43.05,464.11 48.55,464.11" fill="#3a9a40"/>
<polygon points="90.7,469.63 87.95,474.41 93.45,474.41" fill="#3a9a40"/>
<polygon points="135.6,483.33 132.85,488.11 138.35,488.11" fill="#3a9a40"/>
<polygon points="180.5,499.93 177.75,504.71 183.25,504.71" fill="#3a9a40"/>
<rect x="43.4" y="459.8" width="4.8" height="4.8" fill="#d83b2a"/>
<rect x="88.3" y="470.1" width="4.8" height="4.8" fill="#d83b2a"/>
<rect x="133.2" y="479.1" width="4.8" height="4.8" fill="#d83b2a"/>
<rect x="178.1" y="485" width="4.8" height="4.8" fill="#d83b2a"/>
<circle cx="45.8" cy="462.2" r="2.5" fill="#3677b9"/>
<circle cx="90.7" cy="469.2" r="2.5" fill="#3677b9"/>
<circle cx="135.6" cy="477.2" r="2.5" fill="#3677b9"/>
<circle cx="180.5" cy="493.5" r="2.5" fill="#3677b9"/>
<line x1="213.7" y1="451.2" x2="213.7" y2="542.2" stroke="#231f20" stroke-width="1.2" />
<line x1="213.2" y1="541.6" x2="349.08" y2="541.6" stroke="#231f20" stroke-width="1.2" />
<line x1="209.5" y1="462.5" x2="213.7" y2="462.5" stroke="#231f20" stroke-width="1.2" />
<text transform="translate(208.5 465.4) scale(1.0000 1)" font-size="9.30" text-anchor="end" fill="#231f20" font-weight="normal" >1</text>
<line x1="209.5" y1="486.5" x2="213.7" y2="486.5" stroke="#231f20" stroke-width="1.2" />
<text transform="translate(208.5 489.4) scale(1.0000 1)" font-size="9.30" text-anchor="end" fill="#231f20" font-weight="normal" >0.1</text>
<line x1="209.5" y1="510.5" x2="213.7" y2="510.5" stroke="#231f20" stroke-width="1.2" />
<text transform="translate(208.5 513.4) scale(1.0000 1)" font-size="9.30" text-anchor="end" fill="#231f20" font-weight="normal" >0.01</text>
<line x1="209.5" y1="534.5" x2="213.7" y2="534.5" stroke="#231f20" stroke-width="1.2" />
<text transform="translate(208.5 537.4) scale(1.0000 1)" font-size="9.30" text-anchor="end" fill="#231f20" font-weight="normal" >0.001</text>
<line x1="210.7" y1="455.28" x2="213.7" y2="455.28" stroke="#231f20" stroke-width="1.0" />
<line x1="210.7" y1="479.28" x2="213.7" y2="479.28" stroke="#231f20" stroke-width="1.0" />
<line x1="210.7" y1="475.05" x2="213.7" y2="475.05" stroke="#231f20" stroke-width="1.0" />
<line x1="210.7" y1="472.05" x2="213.7" y2="472.05" stroke="#231f20" stroke-width="1.0" />
<line x1="210.7" y1="469.72" x2="213.7" y2="469.72" stroke="#231f20" stroke-width="1.0" />
<line x1="210.7" y1="467.82" x2="213.7" y2="467.82" stroke="#231f20" stroke-width="1.0" />
<line x1="210.7" y1="466.22" x2="213.7" y2="466.22" stroke="#231f20" stroke-width="1.0" />
<line x1="210.7" y1="464.83" x2="213.7" y2="464.83" stroke="#231f20" stroke-width="1.0" />
<line x1="210.7" y1="463.6" x2="213.7" y2="463.6" stroke="#231f20" stroke-width="1.0" />
<line x1="210.7" y1="503.28" x2="213.7" y2="503.28" stroke="#231f20" stroke-width="1.0" />
<line x1="210.7" y1="499.05" x2="213.7" y2="499.05" stroke="#231f20" stroke-width="1.0" />
<line x1="210.7" y1="496.05" x2="213.7" y2="496.05" stroke="#231f20" stroke-width="1.0" />
<line x1="210.7" y1="493.72" x2="213.7" y2="493.72" stroke="#231f20" stroke-width="1.0" />
<line x1="210.7" y1="491.82" x2="213.7" y2="491.82" stroke="#231f20" stroke-width="1.0" />
<line x1="210.7" y1="490.22" x2="213.7" y2="490.22" stroke="#231f20" stroke-width="1.0" />
<line x1="210.7" y1="488.83" x2="213.7" y2="488.83" stroke="#231f20" stroke-width="1.0" />
<line x1="210.7" y1="487.6" x2="213.7" y2="487.6" stroke="#231f20" stroke-width="1.0" />
<line x1="210.7" y1="527.28" x2="213.7" y2="527.28" stroke="#231f20" stroke-width="1.0" />
<line x1="210.7" y1="523.05" x2="213.7" y2="523.05" stroke="#231f20" stroke-width="1.0" />
<line x1="210.7" y1="520.05" x2="213.7" y2="520.05" stroke="#231f20" stroke-width="1.0" />
<line x1="210.7" y1="517.72" x2="213.7" y2="517.72" stroke="#231f20" stroke-width="1.0" />
<line x1="210.7" y1="515.82" x2="213.7" y2="515.82" stroke="#231f20" stroke-width="1.0" />
<line x1="210.7" y1="514.22" x2="213.7" y2="514.22" stroke="#231f20" stroke-width="1.0" />
<line x1="210.7" y1="512.83" x2="213.7" y2="512.83" stroke="#231f20" stroke-width="1.0" />
<line x1="210.7" y1="511.6" x2="213.7" y2="511.6" stroke="#231f20" stroke-width="1.0" />
<line x1="213.7" y1="541.6" x2="213.7" y2="545.6" stroke="#231f20" stroke-width="1.2" />
<text transform="translate(213.3 554.8) scale(0.8929 1)" font-size="9.63" text-anchor="middle" fill="#231f20" font-weight="normal" >0</text>
<line x1="258.66" y1="541.6" x2="258.66" y2="545.6" stroke="#231f20" stroke-width="1.2" />
<text transform="translate(258.26 554.8) scale(0.8929 1)" font-size="9.63" text-anchor="middle" fill="#231f20" font-weight="normal" >2</text>
<line x1="303.62" y1="541.6" x2="303.62" y2="545.6" stroke="#231f20" stroke-width="1.2" />
<text transform="translate(303.22 554.8) scale(0.8929 1)" font-size="9.63" text-anchor="middle" fill="#231f20" font-weight="normal" >4</text>
<line x1="348.58" y1="541.6" x2="348.58" y2="545.6" stroke="#231f20" stroke-width="1.2" />
<text transform="translate(348.18 554.8) scale(0.8929 1)" font-size="9.63" text-anchor="middle" fill="#231f20" font-weight="normal" >6</text>
<text transform="translate(284.74 566.2) scale(0.9259 1)" font-size="10.26" text-anchor="middle" fill="#231f20" font-weight="normal" >IR (Gy)</text>
<text transform="translate(281.84 450.8) scale(0.9259 1)" font-size="9.94" text-anchor="middle" fill="#231f20" font-weight="normal" >NCI-H526</text>
<line x1="258.66" y1="456.9" x2="258.66" y2="502.5" stroke="#9ccc9f" stroke-width="1.1" />
<line x1="256.26" y1="456.9" x2="261.06" y2="456.9" stroke="#9ccc9f" stroke-width="1.1" />
<line x1="256.26" y1="502.5" x2="261.06" y2="502.5" stroke="#9ccc9f" stroke-width="1.1" />
<line x1="303.62" y1="469.5" x2="303.62" y2="492.2" stroke="#9ccc9f" stroke-width="1.1" />
<line x1="301.22" y1="469.5" x2="306.02" y2="469.5" stroke="#9ccc9f" stroke-width="1.1" />
<line x1="301.22" y1="492.2" x2="306.02" y2="492.2" stroke="#9ccc9f" stroke-width="1.1" />
<line x1="348.58" y1="500.6" x2="348.58" y2="515.9" stroke="#9ccc9f" stroke-width="1.1" />
<line x1="346.18" y1="500.6" x2="350.98" y2="500.6" stroke="#9ccc9f" stroke-width="1.1" />
<line x1="346.18" y1="515.9" x2="350.98" y2="515.9" stroke="#9ccc9f" stroke-width="1.1" />
<line x1="258.66" y1="458" x2="258.66" y2="476" stroke="#beb9d3" stroke-width="1.1" />
<line x1="256.26" y1="458" x2="261.06" y2="458" stroke="#beb9d3" stroke-width="1.1" />
<line x1="256.26" y1="476" x2="261.06" y2="476" stroke="#beb9d3" stroke-width="1.1" />
<line x1="348.58" y1="484.5" x2="348.58" y2="492" stroke="#9abbdc" stroke-width="1.1" />
<line x1="346.18" y1="484.5" x2="350.98" y2="484.5" stroke="#9abbdc" stroke-width="1.1" />
<line x1="346.18" y1="492" x2="350.98" y2="492" stroke="#9abbdc" stroke-width="1.1" />
<line x1="303.62" y1="470" x2="303.62" y2="476" stroke="#9abbdc" stroke-width="1.1" />
<line x1="301.22" y1="470" x2="306.02" y2="470" stroke="#9abbdc" stroke-width="1.1" />
<line x1="301.22" y1="476" x2="306.02" y2="476" stroke="#9abbdc" stroke-width="1.1" />
<line x1="348.58" y1="489" x2="348.58" y2="496" stroke="#eb9d94" stroke-width="1.1" />
<line x1="346.18" y1="489" x2="350.98" y2="489" stroke="#eb9d94" stroke-width="1.1" />
<line x1="346.18" y1="496" x2="350.98" y2="496" stroke="#eb9d94" stroke-width="1.1" />
<line x1="303.62" y1="474" x2="303.62" y2="480" stroke="#eb9d94" stroke-width="1.1" />
<line x1="301.22" y1="474" x2="306.02" y2="474" stroke="#eb9d94" stroke-width="1.1" />
<line x1="301.22" y1="480" x2="306.02" y2="480" stroke="#eb9d94" stroke-width="1.1" />
<polyline points="213.7,462.5 219.32,462.22 224.94,462.11 230.56,462.17 236.18,462.39 241.8,462.78 247.42,463.34 253.04,464.06 258.66,464.95 264.28,466 269.9,467.22 275.52,468.61 281.14,470.17 286.76,471.89 292.38,473.78 298,475.83 303.62,478.05 309.24,480.44 314.86,482.99 320.48,485.71 326.1,488.6 331.72,491.66 337.34,494.88 342.96,498.26 348.58,501.82" fill="none" stroke="#3a9a40" stroke-width="2.0" stroke-linejoin="round" stroke-linecap="butt" />
<polyline points="213.7,462.5 219.32,462.76 224.94,463.1 230.56,463.53 236.18,464.05 241.8,464.66 247.42,465.35 253.04,466.13 258.66,467 264.28,467.96 269.9,469 275.52,470.13 281.14,471.35 286.76,472.66 292.38,474.05 298,475.53 303.62,477.1 309.24,478.76 314.86,480.5 320.48,482.33 326.1,484.25 331.72,486.26 337.34,488.35 342.96,490.53 348.58,492.8" fill="none" stroke="#d83b2a" stroke-width="2.0" stroke-linejoin="round" stroke-linecap="butt" />
<polyline points="213.7,462.5 219.32,462.26 224.94,462.14 230.56,462.14 236.18,462.24 241.8,462.47 247.42,462.8 253.04,463.25 258.66,463.82 264.28,464.5 269.9,465.3 275.52,466.21 281.14,467.23 286.76,468.37 292.38,469.63 298,471 303.62,472.48 309.24,474.08 314.86,475.79 320.48,477.62 326.1,479.56 331.72,481.62 337.34,483.79 342.96,486.07 348.58,488.47" fill="none" stroke="#3677b9" stroke-width="2.0" stroke-linejoin="round" stroke-linecap="butt" />
<polygon points="213.7,459.63 210.95,464.41 216.45,464.41" fill="#3a9a40"/>
<polygon points="258.66,463.13 255.91,467.91 261.41,467.91" fill="#3a9a40"/>
<polygon points="303.62,475.13 300.87,479.91 306.37,479.91" fill="#3a9a40"/>
<polygon points="348.58,503.13 345.83,507.91 351.33,507.91" fill="#3a9a40"/>
<rect x="211.3" y="460.1" width="4.8" height="4.8" fill="#d83b2a"/>
<rect x="256.26" y="464.9" width="4.8" height="4.8" fill="#d83b2a"/>
<rect x="301.22" y="474.4" width="4.8" height="4.8" fill="#d83b2a"/>
<rect x="346.18" y="490.5" width="4.8" height="4.8" fill="#d83b2a"/>
<circle cx="213.7" cy="462.5" r="2.5" fill="#3677b9"/>
<circle cx="258.66" cy="463.3" r="2.5" fill="#3677b9"/>
<circle cx="303.62" cy="473" r="2.5" fill="#3677b9"/>
<circle cx="348.58" cy="488.3" r="2.5" fill="#3677b9"/>
<line x1="380.8" y1="450.2" x2="380.8" y2="541.8" stroke="#231f20" stroke-width="1.2" />
<line x1="380.3" y1="541.2" x2="516.78" y2="541.2" stroke="#231f20" stroke-width="1.2" />
<line x1="376.6" y1="462.1" x2="380.8" y2="462.1" stroke="#231f20" stroke-width="1.2" />
<text transform="translate(375.6 465) scale(1.0000 1)" font-size="9.30" text-anchor="end" fill="#231f20" font-weight="normal" >1</text>
<line x1="376.6" y1="486.05" x2="380.8" y2="486.05" stroke="#231f20" stroke-width="1.2" />
<text transform="translate(375.6 488.95) scale(1.0000 1)" font-size="9.30" text-anchor="end" fill="#231f20" font-weight="normal" >0.1</text>
<line x1="376.6" y1="510" x2="380.8" y2="510" stroke="#231f20" stroke-width="1.2" />
<text transform="translate(375.6 512.9) scale(1.0000 1)" font-size="9.30" text-anchor="end" fill="#231f20" font-weight="normal" >0.01</text>
<line x1="376.6" y1="533.95" x2="380.8" y2="533.95" stroke="#231f20" stroke-width="1.2" />
<text transform="translate(375.6 536.85) scale(1.0000 1)" font-size="9.30" text-anchor="end" fill="#231f20" font-weight="normal" >0.001</text>
<line x1="377.8" y1="454.89" x2="380.8" y2="454.89" stroke="#231f20" stroke-width="1.0" />
<line x1="377.8" y1="450.67" x2="380.8" y2="450.67" stroke="#231f20" stroke-width="1.0" />
<line x1="377.8" y1="478.84" x2="380.8" y2="478.84" stroke="#231f20" stroke-width="1.0" />
<line x1="377.8" y1="474.62" x2="380.8" y2="474.62" stroke="#231f20" stroke-width="1.0" />
<line x1="377.8" y1="471.63" x2="380.8" y2="471.63" stroke="#231f20" stroke-width="1.0" />
<line x1="377.8" y1="469.31" x2="380.8" y2="469.31" stroke="#231f20" stroke-width="1.0" />
<line x1="377.8" y1="467.41" x2="380.8" y2="467.41" stroke="#231f20" stroke-width="1.0" />
<line x1="377.8" y1="465.81" x2="380.8" y2="465.81" stroke="#231f20" stroke-width="1.0" />
<line x1="377.8" y1="464.42" x2="380.8" y2="464.42" stroke="#231f20" stroke-width="1.0" />
<line x1="377.8" y1="463.2" x2="380.8" y2="463.2" stroke="#231f20" stroke-width="1.0" />
<line x1="377.8" y1="502.79" x2="380.8" y2="502.79" stroke="#231f20" stroke-width="1.0" />
<line x1="377.8" y1="498.57" x2="380.8" y2="498.57" stroke="#231f20" stroke-width="1.0" />
<line x1="377.8" y1="495.58" x2="380.8" y2="495.58" stroke="#231f20" stroke-width="1.0" />
<line x1="377.8" y1="493.26" x2="380.8" y2="493.26" stroke="#231f20" stroke-width="1.0" />
<line x1="377.8" y1="491.36" x2="380.8" y2="491.36" stroke="#231f20" stroke-width="1.0" />
<line x1="377.8" y1="489.76" x2="380.8" y2="489.76" stroke="#231f20" stroke-width="1.0" />
<line x1="377.8" y1="488.37" x2="380.8" y2="488.37" stroke="#231f20" stroke-width="1.0" />
<line x1="377.8" y1="487.15" x2="380.8" y2="487.15" stroke="#231f20" stroke-width="1.0" />
<line x1="377.8" y1="526.74" x2="380.8" y2="526.74" stroke="#231f20" stroke-width="1.0" />
<line x1="377.8" y1="522.52" x2="380.8" y2="522.52" stroke="#231f20" stroke-width="1.0" />
<line x1="377.8" y1="519.53" x2="380.8" y2="519.53" stroke="#231f20" stroke-width="1.0" />
<line x1="377.8" y1="517.21" x2="380.8" y2="517.21" stroke="#231f20" stroke-width="1.0" />
<line x1="377.8" y1="515.31" x2="380.8" y2="515.31" stroke="#231f20" stroke-width="1.0" />
<line x1="377.8" y1="513.71" x2="380.8" y2="513.71" stroke="#231f20" stroke-width="1.0" />
<line x1="377.8" y1="512.32" x2="380.8" y2="512.32" stroke="#231f20" stroke-width="1.0" />
<line x1="377.8" y1="511.1" x2="380.8" y2="511.1" stroke="#231f20" stroke-width="1.0" />
<line x1="380.8" y1="541.2" x2="380.8" y2="545.2" stroke="#231f20" stroke-width="1.2" />
<text transform="translate(380.4 554.4) scale(0.8929 1)" font-size="9.63" text-anchor="middle" fill="#231f20" font-weight="normal" >0</text>
<line x1="425.96" y1="541.2" x2="425.96" y2="545.2" stroke="#231f20" stroke-width="1.2" />
<text transform="translate(425.56 554.4) scale(0.8929 1)" font-size="9.63" text-anchor="middle" fill="#231f20" font-weight="normal" >2</text>
<line x1="471.12" y1="541.2" x2="471.12" y2="545.2" stroke="#231f20" stroke-width="1.2" />
<text transform="translate(470.72 554.4) scale(0.8929 1)" font-size="9.63" text-anchor="middle" fill="#231f20" font-weight="normal" >4</text>
<line x1="516.28" y1="541.2" x2="516.28" y2="545.2" stroke="#231f20" stroke-width="1.2" />
<text transform="translate(515.88 554.4) scale(0.8929 1)" font-size="9.63" text-anchor="middle" fill="#231f20" font-weight="normal" >6</text>
<text transform="translate(452.14 565.8) scale(0.9259 1)" font-size="10.26" text-anchor="middle" fill="#231f20" font-weight="normal" >IR (Gy)</text>
<text transform="translate(449.24 450.8) scale(0.9259 1)" font-size="9.94" text-anchor="middle" fill="#231f20" font-weight="normal" >NCI-H82</text>
<line x1="425.96" y1="477.8" x2="425.96" y2="490.1" stroke="#9ccc9f" stroke-width="1.1" />
<line x1="423.56" y1="477.8" x2="428.36" y2="477.8" stroke="#9ccc9f" stroke-width="1.1" />
<line x1="423.56" y1="490.1" x2="428.36" y2="490.1" stroke="#9ccc9f" stroke-width="1.1" />
<line x1="471.12" y1="496" x2="471.12" y2="505.9" stroke="#9ccc9f" stroke-width="1.1" />
<line x1="468.72" y1="496" x2="473.52" y2="496" stroke="#9ccc9f" stroke-width="1.1" />
<line x1="468.72" y1="505.9" x2="473.52" y2="505.9" stroke="#9ccc9f" stroke-width="1.1" />
<line x1="516.28" y1="508" x2="516.28" y2="535.4" stroke="#9ccc9f" stroke-width="1.1" />
<line x1="513.88" y1="508" x2="518.68" y2="508" stroke="#9ccc9f" stroke-width="1.1" />
<line x1="513.88" y1="535.4" x2="518.68" y2="535.4" stroke="#9ccc9f" stroke-width="1.1" />
<line x1="471.12" y1="481" x2="471.12" y2="492.2" stroke="#9abbdc" stroke-width="1.1" />
<line x1="468.72" y1="481" x2="473.52" y2="481" stroke="#9abbdc" stroke-width="1.1" />
<line x1="468.72" y1="492.2" x2="473.52" y2="492.2" stroke="#9abbdc" stroke-width="1.1" />
<line x1="516.28" y1="497" x2="516.28" y2="508.2" stroke="#9abbdc" stroke-width="1.1" />
<line x1="513.88" y1="497" x2="518.68" y2="497" stroke="#9abbdc" stroke-width="1.1" />
<line x1="513.88" y1="508.2" x2="518.68" y2="508.2" stroke="#9abbdc" stroke-width="1.1" />
<line x1="425.96" y1="467" x2="425.96" y2="476" stroke="#9abbdc" stroke-width="1.1" />
<line x1="423.56" y1="467" x2="428.36" y2="467" stroke="#9abbdc" stroke-width="1.1" />
<line x1="423.56" y1="476" x2="428.36" y2="476" stroke="#9abbdc" stroke-width="1.1" />
<line x1="471.12" y1="481" x2="471.12" y2="490" stroke="#eb9d94" stroke-width="1.1" />
<line x1="468.72" y1="481" x2="473.52" y2="481" stroke="#eb9d94" stroke-width="1.1" />
<line x1="468.72" y1="490" x2="473.52" y2="490" stroke="#eb9d94" stroke-width="1.1" />
<line x1="516.28" y1="498" x2="516.28" y2="506" stroke="#eb9d94" stroke-width="1.1" />
<line x1="513.88" y1="498" x2="518.68" y2="498" stroke="#eb9d94" stroke-width="1.1" />
<line x1="513.88" y1="506" x2="518.68" y2="506" stroke="#eb9d94" stroke-width="1.1" />
<polyline points="380.8,462.1 386.44,464.67 392.09,467.21 397.74,469.72 403.38,472.2 409.03,474.64 414.67,477.06 420.31,479.44 425.96,481.78 431.61,484.1 437.25,486.38 442.89,488.64 448.54,490.86 454.19,493.04 459.83,495.2 465.48,497.32 471.12,499.42 476.76,501.48 482.41,503.5 488.06,505.5 493.7,507.46 499.35,509.39 504.99,511.29 510.63,513.16 516.28,514.99" fill="none" stroke="#3a9a40" stroke-width="2.0" stroke-linejoin="round" stroke-linecap="butt" />
<polyline points="380.8,462.1 386.44,463.31 392.09,464.56 397.74,465.84 403.38,467.16 409.03,468.51 414.67,469.9 420.31,471.31 425.96,472.77 431.61,474.26 437.25,475.78 442.89,477.33 448.54,478.93 454.19,480.55 459.83,482.21 465.48,483.9 471.12,485.63 476.76,487.39 482.41,489.19 488.06,491.02 493.7,492.89 499.35,494.79 504.99,496.72 510.63,498.69 516.28,500.69" fill="none" stroke="#d83b2a" stroke-width="2.0" stroke-linejoin="round" stroke-linecap="butt" />
<polyline points="380.8,462.1 386.44,463.12 392.09,464.19 397.74,465.31 403.38,466.49 409.03,467.72 414.67,469 420.31,470.33 425.96,471.72 431.61,473.15 437.25,474.64 442.89,476.19 448.54,477.78 454.19,479.43 459.83,481.13 465.48,482.88 471.12,484.68 476.76,486.54 482.41,488.45 488.06,490.41 493.7,492.43 499.35,494.49 504.99,496.61 510.63,498.78 516.28,501.01" fill="none" stroke="#3677b9" stroke-width="2.0" stroke-linejoin="round" stroke-linecap="butt" />
<polygon points="380.8,459.23 378.05,464.01 383.55,464.01" fill="#3a9a40"/>
<polygon points="425.96,478.03 423.21,482.81 428.71,482.81" fill="#3a9a40"/>
<polygon points="471.12,497.43 468.37,502.21 473.87,502.21" fill="#3a9a40"/>
<polygon points="516.28,511.83 513.53,516.61 519.03,516.61" fill="#3a9a40"/>
<rect x="378.4" y="459.7" width="4.8" height="4.8" fill="#d83b2a"/>
<rect x="423.56" y="471.3" width="4.8" height="4.8" fill="#d83b2a"/>
<rect x="468.72" y="482.3" width="4.8" height="4.8" fill="#d83b2a"/>
<rect x="513.88" y="498.6" width="4.8" height="4.8" fill="#d83b2a"/>
<circle cx="380.8" cy="462.1" r="2.5" fill="#3677b9"/>
<circle cx="425.96" cy="471.7" r="2.5" fill="#3677b9"/>
<circle cx="471.12" cy="484.7" r="2.5" fill="#3677b9"/>
<circle cx="516.28" cy="501" r="2.5" fill="#3677b9"/>
<text transform="translate(12.8 490.2) rotate(-90) scale(1.0000 1)" font-size="9.40" text-anchor="middle" fill="#231f20" font-weight="normal" >Surviving fraction</text>
<line x1="91.25" y1="581.2" x2="110" y2="581.2" stroke="#3677b9" stroke-width="1.8" />
<circle cx="100.62" cy="581.2" r="2.2" fill="#3677b9"/>
<text transform="translate(115.3 584.1) scale(0.9259 1)" font-size="9.13" text-anchor="start" fill="#231f20" font-weight="normal" >DMSO</text>
<line x1="162.5" y1="581.2" x2="181.25" y2="581.2" stroke="#d83b2a" stroke-width="1.8" />
<rect x="169.78" y="579.1" width="4.2" height="4.2" fill="#d83b2a"/>
<text transform="translate(184.5 584.1) scale(0.9259 1)" font-size="9.13" text-anchor="start" fill="#231f20" font-weight="normal" >2 nmol/L Talazoparib</text>
<line x1="267" y1="581.2" x2="285" y2="581.2" stroke="#3a9a40" stroke-width="1.8" />
<polygon points="276,578.8 273.7,582.8 278.3,582.8" fill="#3a9a40"/>
<text transform="translate(287.5 584.1) scale(0.9259 1)" font-size="9.13" text-anchor="start" fill="#231f20" font-weight="normal" >20 nmol/L Talazoparib</text>
<line x1="371.25" y1="581.2" x2="388.75" y2="581.2" stroke="#654a9f" stroke-width="1.8" />
<polygon points="380,583.6 377.7,579.6 382.3,579.6" fill="#654a9f"/>
<text transform="translate(392.3 584.1) scale(0.9259 1)" font-size="9.13" text-anchor="start" fill="#231f20" font-weight="normal" >200 nmol/L Talazoparib</text>
</svg></body></html>
